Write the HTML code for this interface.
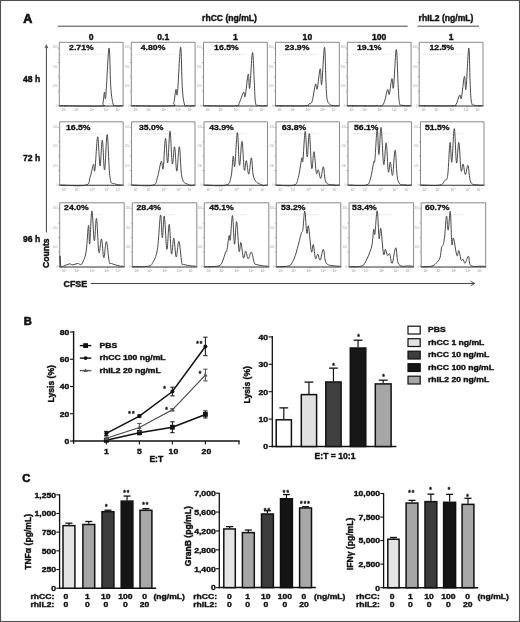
<!DOCTYPE html>
<html><head><meta charset="utf-8"><title>Figure</title>
<style>
html,body{margin:0;padding:0;background:#fff;}
body{width:520px;height:622px;overflow:hidden;}
svg{display:block;}
svg text{font-family:'Liberation Sans',Arial,Helvetica,sans-serif;font-weight:bold;}
</style></head>
<body>
<svg width="520" height="622" viewBox="0 0 520 622">
<rect x="0.50" y="0.50" width="519.00" height="621.00" fill="#fff" stroke="#505050" stroke-width="1.1" />
<text x="23.20" y="22.60" font-size="12.6" text-anchor="start" fill="#111" stroke="#111" stroke-width="0.7" >A</text>
<text x="229.50" y="21.30" font-size="8.6" text-anchor="middle" fill="#111" stroke="#111" stroke-width="0.4" >rhCC (ng/mL)</text>
<line x1="57.70" y1="26.20" x2="407.70" y2="26.20" stroke="#444" stroke-width="1.0" />
<text x="446.00" y="21.30" font-size="8.6" text-anchor="middle" fill="#111" stroke="#111" stroke-width="0.4" >rhIL2 (ng/mL)</text>
<line x1="417.50" y1="26.20" x2="479.00" y2="26.20" stroke="#444" stroke-width="1.0" />
<text x="91.20" y="39.60" font-size="8.6" text-anchor="middle" fill="#111" stroke="#111" stroke-width="0.4" >0</text>
<text x="163.20" y="39.60" font-size="8.6" text-anchor="middle" fill="#111" stroke="#111" stroke-width="0.4" >0.1</text>
<text x="235.40" y="39.60" font-size="8.6" text-anchor="middle" fill="#111" stroke="#111" stroke-width="0.4" >1</text>
<text x="307.40" y="39.60" font-size="8.6" text-anchor="middle" fill="#111" stroke="#111" stroke-width="0.4" >10</text>
<text x="379.20" y="39.60" font-size="8.6" text-anchor="middle" fill="#111" stroke="#111" stroke-width="0.4" >100</text>
<text x="451.10" y="39.60" font-size="8.6" text-anchor="middle" fill="#111" stroke="#111" stroke-width="0.4" >1</text>
<text x="23.10" y="82.10" font-size="8.6" text-anchor="start" fill="#111" stroke="#111" stroke-width="0.4" >48 h</text>
<text x="23.10" y="161.40" font-size="8.6" text-anchor="start" fill="#111" stroke="#111" stroke-width="0.4" >72 h</text>
<text x="23.10" y="241.80" font-size="8.6" text-anchor="start" fill="#111" stroke="#111" stroke-width="0.4" >96 h</text>
<path d="M59.30,106.00 V42.30 H123.10 V106.00" fill="none" stroke="#7a7a7a" stroke-width="0.9"/>
<line x1="57.70" y1="105.50" x2="59.30" y2="105.50" stroke="#8a8a8a" stroke-width="0.6" />
<line x1="57.70" y1="91.17" x2="59.30" y2="91.17" stroke="#8a8a8a" stroke-width="0.6" />
<line x1="57.70" y1="76.83" x2="59.30" y2="76.83" stroke="#8a8a8a" stroke-width="0.6" />
<line x1="57.70" y1="62.50" x2="59.30" y2="62.50" stroke="#8a8a8a" stroke-width="0.6" />
<line x1="57.70" y1="48.17" x2="59.30" y2="48.17" stroke="#8a8a8a" stroke-width="0.6" />
<text x="57.30" y="107.00" font-size="2.8" text-anchor="end" fill="#aaa" style="font-weight:normal">0</text>
<text x="57.30" y="87.47" font-size="2.8" text-anchor="end" fill="#aaa" style="font-weight:normal">100</text>
<text x="57.30" y="67.93" font-size="2.8" text-anchor="end" fill="#aaa" style="font-weight:normal">200</text>
<text x="57.30" y="48.40" font-size="2.8" text-anchor="end" fill="#aaa" style="font-weight:normal">300</text>
<text x="61.50" y="111.20" font-size="3.0" fill="#8a8a8a" style="font-weight:normal">10<tspan dy="-1.2" font-size="2.2">0</tspan></text>
<line x1="64.50" y1="106.00" x2="64.50" y2="107.20" stroke="#777" stroke-width="0.5" />
<text x="74.30" y="111.20" font-size="3.0" fill="#8a8a8a" style="font-weight:normal">10<tspan dy="-1.2" font-size="2.2">1</tspan></text>
<line x1="77.30" y1="106.00" x2="77.30" y2="107.20" stroke="#777" stroke-width="0.5" />
<text x="89.60" y="111.20" font-size="3.0" fill="#8a8a8a" style="font-weight:normal">10<tspan dy="-1.2" font-size="2.2">2</tspan></text>
<line x1="92.60" y1="106.00" x2="92.60" y2="107.20" stroke="#777" stroke-width="0.5" />
<text x="104.10" y="111.20" font-size="3.0" fill="#8a8a8a" style="font-weight:normal">10<tspan dy="-1.2" font-size="2.2">3</tspan></text>
<line x1="107.10" y1="106.00" x2="107.10" y2="107.20" stroke="#777" stroke-width="0.5" />
<text x="115.70" y="111.20" font-size="3.0" fill="#8a8a8a" style="font-weight:normal">10<tspan dy="-1.2" font-size="2.2">4</tspan></text>
<line x1="118.70" y1="106.00" x2="118.70" y2="107.20" stroke="#777" stroke-width="0.5" />
<line x1="62.80" y1="54.30" x2="102.80" y2="54.30" stroke="#d4d4d4" stroke-width="0.7" stroke-dasharray="1.2,0.8"/>
<path d="M59.90,105.70 C67.42,105.75 93.02,106.35 100.90,106.00 C108.78,105.65 102.26,106.33 102.90,103.80 C103.54,101.27 103.87,93.59 104.40,92.20 C104.93,90.81 104.96,104.30 105.80,96.20 C106.64,88.10 108.08,49.63 109.00,48.00 C109.92,46.37 110.05,77.03 110.80,87.30 C111.55,97.57 112.27,100.61 113.10,104.00 C113.92,107.39 113.58,105.49 115.30,105.80 C117.02,106.11 121.18,105.72 122.50,105.70" fill="none" stroke="#3c3c3c" stroke-width="0.95" stroke-linejoin="round"/>
<line x1="58.90" y1="106.00" x2="123.50" y2="106.00" stroke="#333" stroke-width="1.1" />
<text x="0" y="0" transform="translate(69.10,50.10) scale(1.07,1)" font-size="8.1" text-anchor="start" fill="#111" stroke="#111" stroke-width="0.32" >2.71%</text>
<path d="M131.30,106.00 V42.30 H195.10 V106.00" fill="none" stroke="#7a7a7a" stroke-width="0.9"/>
<line x1="129.70" y1="105.50" x2="131.30" y2="105.50" stroke="#8a8a8a" stroke-width="0.6" />
<line x1="129.70" y1="91.17" x2="131.30" y2="91.17" stroke="#8a8a8a" stroke-width="0.6" />
<line x1="129.70" y1="76.83" x2="131.30" y2="76.83" stroke="#8a8a8a" stroke-width="0.6" />
<line x1="129.70" y1="62.50" x2="131.30" y2="62.50" stroke="#8a8a8a" stroke-width="0.6" />
<line x1="129.70" y1="48.17" x2="131.30" y2="48.17" stroke="#8a8a8a" stroke-width="0.6" />
<text x="129.30" y="107.00" font-size="2.8" text-anchor="end" fill="#aaa" style="font-weight:normal">0</text>
<text x="129.30" y="87.47" font-size="2.8" text-anchor="end" fill="#aaa" style="font-weight:normal">100</text>
<text x="129.30" y="67.93" font-size="2.8" text-anchor="end" fill="#aaa" style="font-weight:normal">200</text>
<text x="129.30" y="48.40" font-size="2.8" text-anchor="end" fill="#aaa" style="font-weight:normal">300</text>
<text x="133.50" y="111.20" font-size="3.0" fill="#8a8a8a" style="font-weight:normal">10<tspan dy="-1.2" font-size="2.2">0</tspan></text>
<line x1="136.50" y1="106.00" x2="136.50" y2="107.20" stroke="#777" stroke-width="0.5" />
<text x="146.30" y="111.20" font-size="3.0" fill="#8a8a8a" style="font-weight:normal">10<tspan dy="-1.2" font-size="2.2">1</tspan></text>
<line x1="149.30" y1="106.00" x2="149.30" y2="107.20" stroke="#777" stroke-width="0.5" />
<text x="161.60" y="111.20" font-size="3.0" fill="#8a8a8a" style="font-weight:normal">10<tspan dy="-1.2" font-size="2.2">2</tspan></text>
<line x1="164.60" y1="106.00" x2="164.60" y2="107.20" stroke="#777" stroke-width="0.5" />
<text x="176.10" y="111.20" font-size="3.0" fill="#8a8a8a" style="font-weight:normal">10<tspan dy="-1.2" font-size="2.2">3</tspan></text>
<line x1="179.10" y1="106.00" x2="179.10" y2="107.20" stroke="#777" stroke-width="0.5" />
<text x="187.70" y="111.20" font-size="3.0" fill="#8a8a8a" style="font-weight:normal">10<tspan dy="-1.2" font-size="2.2">4</tspan></text>
<line x1="190.70" y1="106.00" x2="190.70" y2="107.20" stroke="#777" stroke-width="0.5" />
<line x1="134.80" y1="54.30" x2="174.80" y2="54.30" stroke="#d4d4d4" stroke-width="0.7" stroke-dasharray="1.2,0.8"/>
<path d="M131.90,105.70 C139.12,105.72 163.62,106.33 171.30,105.80 C178.98,105.27 172.96,105.79 173.80,102.80 C174.64,99.81 175.22,91.37 175.90,89.50 C176.58,87.63 176.64,100.35 177.50,92.60 C178.36,84.84 179.72,48.17 180.60,47.20 C181.48,46.23 181.60,76.85 182.30,87.30 C183.00,97.75 183.58,100.81 184.40,104.20 C185.22,107.59 184.95,105.52 186.80,105.80 C188.65,106.08 193.09,105.72 194.50,105.70" fill="none" stroke="#3c3c3c" stroke-width="0.95" stroke-linejoin="round"/>
<line x1="130.90" y1="106.00" x2="195.50" y2="106.00" stroke="#333" stroke-width="1.1" />
<text x="0" y="0" transform="translate(140.80,50.10) scale(1.07,1)" font-size="8.1" text-anchor="start" fill="#111" stroke="#111" stroke-width="0.32" >4.80%</text>
<path d="M203.50,106.00 V42.30 H267.30 V106.00" fill="none" stroke="#7a7a7a" stroke-width="0.9"/>
<line x1="201.90" y1="105.50" x2="203.50" y2="105.50" stroke="#8a8a8a" stroke-width="0.6" />
<line x1="201.90" y1="91.17" x2="203.50" y2="91.17" stroke="#8a8a8a" stroke-width="0.6" />
<line x1="201.90" y1="76.83" x2="203.50" y2="76.83" stroke="#8a8a8a" stroke-width="0.6" />
<line x1="201.90" y1="62.50" x2="203.50" y2="62.50" stroke="#8a8a8a" stroke-width="0.6" />
<line x1="201.90" y1="48.17" x2="203.50" y2="48.17" stroke="#8a8a8a" stroke-width="0.6" />
<text x="201.50" y="107.00" font-size="2.8" text-anchor="end" fill="#aaa" style="font-weight:normal">0</text>
<text x="201.50" y="87.47" font-size="2.8" text-anchor="end" fill="#aaa" style="font-weight:normal">100</text>
<text x="201.50" y="67.93" font-size="2.8" text-anchor="end" fill="#aaa" style="font-weight:normal">200</text>
<text x="201.50" y="48.40" font-size="2.8" text-anchor="end" fill="#aaa" style="font-weight:normal">300</text>
<text x="205.70" y="111.20" font-size="3.0" fill="#8a8a8a" style="font-weight:normal">10<tspan dy="-1.2" font-size="2.2">0</tspan></text>
<line x1="208.70" y1="106.00" x2="208.70" y2="107.20" stroke="#777" stroke-width="0.5" />
<text x="218.50" y="111.20" font-size="3.0" fill="#8a8a8a" style="font-weight:normal">10<tspan dy="-1.2" font-size="2.2">1</tspan></text>
<line x1="221.50" y1="106.00" x2="221.50" y2="107.20" stroke="#777" stroke-width="0.5" />
<text x="233.80" y="111.20" font-size="3.0" fill="#8a8a8a" style="font-weight:normal">10<tspan dy="-1.2" font-size="2.2">2</tspan></text>
<line x1="236.80" y1="106.00" x2="236.80" y2="107.20" stroke="#777" stroke-width="0.5" />
<text x="248.30" y="111.20" font-size="3.0" fill="#8a8a8a" style="font-weight:normal">10<tspan dy="-1.2" font-size="2.2">3</tspan></text>
<line x1="251.30" y1="106.00" x2="251.30" y2="107.20" stroke="#777" stroke-width="0.5" />
<text x="259.90" y="111.20" font-size="3.0" fill="#8a8a8a" style="font-weight:normal">10<tspan dy="-1.2" font-size="2.2">4</tspan></text>
<line x1="262.90" y1="106.00" x2="262.90" y2="107.20" stroke="#777" stroke-width="0.5" />
<line x1="207.00" y1="54.30" x2="247.00" y2="54.30" stroke="#d4d4d4" stroke-width="0.7" stroke-dasharray="1.2,0.8"/>
<path d="M204.10,105.70 C209.86,105.72 229.08,106.24 235.50,105.80 C241.92,105.36 237.63,105.79 239.10,103.30 C240.57,100.81 242.38,93.50 243.50,92.20 C244.62,90.90 244.34,99.50 245.20,96.20 C246.06,92.90 247.38,75.70 248.20,74.20 C249.02,72.70 248.91,91.96 249.70,88.00 C250.49,84.04 251.66,53.64 252.50,52.60 C253.34,51.55 253.75,73.13 254.30,82.30 C254.85,91.47 254.73,98.35 255.50,102.60 C256.27,106.85 256.45,104.93 258.50,105.50 C260.55,106.07 265.20,105.66 266.70,105.70" fill="none" stroke="#3c3c3c" stroke-width="0.95" stroke-linejoin="round"/>
<line x1="203.10" y1="106.00" x2="267.70" y2="106.00" stroke="#333" stroke-width="1.1" />
<text x="0" y="0" transform="translate(214.10,50.10) scale(1.07,1)" font-size="8.1" text-anchor="start" fill="#111" stroke="#111" stroke-width="0.32" >16.5%</text>
<path d="M275.50,106.00 V42.30 H339.30 V106.00" fill="none" stroke="#7a7a7a" stroke-width="0.9"/>
<line x1="273.90" y1="105.50" x2="275.50" y2="105.50" stroke="#8a8a8a" stroke-width="0.6" />
<line x1="273.90" y1="91.17" x2="275.50" y2="91.17" stroke="#8a8a8a" stroke-width="0.6" />
<line x1="273.90" y1="76.83" x2="275.50" y2="76.83" stroke="#8a8a8a" stroke-width="0.6" />
<line x1="273.90" y1="62.50" x2="275.50" y2="62.50" stroke="#8a8a8a" stroke-width="0.6" />
<line x1="273.90" y1="48.17" x2="275.50" y2="48.17" stroke="#8a8a8a" stroke-width="0.6" />
<text x="273.50" y="107.00" font-size="2.8" text-anchor="end" fill="#aaa" style="font-weight:normal">0</text>
<text x="273.50" y="87.47" font-size="2.8" text-anchor="end" fill="#aaa" style="font-weight:normal">100</text>
<text x="273.50" y="67.93" font-size="2.8" text-anchor="end" fill="#aaa" style="font-weight:normal">200</text>
<text x="273.50" y="48.40" font-size="2.8" text-anchor="end" fill="#aaa" style="font-weight:normal">300</text>
<text x="277.70" y="111.20" font-size="3.0" fill="#8a8a8a" style="font-weight:normal">10<tspan dy="-1.2" font-size="2.2">0</tspan></text>
<line x1="280.70" y1="106.00" x2="280.70" y2="107.20" stroke="#777" stroke-width="0.5" />
<text x="290.50" y="111.20" font-size="3.0" fill="#8a8a8a" style="font-weight:normal">10<tspan dy="-1.2" font-size="2.2">1</tspan></text>
<line x1="293.50" y1="106.00" x2="293.50" y2="107.20" stroke="#777" stroke-width="0.5" />
<text x="305.80" y="111.20" font-size="3.0" fill="#8a8a8a" style="font-weight:normal">10<tspan dy="-1.2" font-size="2.2">2</tspan></text>
<line x1="308.80" y1="106.00" x2="308.80" y2="107.20" stroke="#777" stroke-width="0.5" />
<text x="320.30" y="111.20" font-size="3.0" fill="#8a8a8a" style="font-weight:normal">10<tspan dy="-1.2" font-size="2.2">3</tspan></text>
<line x1="323.30" y1="106.00" x2="323.30" y2="107.20" stroke="#777" stroke-width="0.5" />
<text x="331.90" y="111.20" font-size="3.0" fill="#8a8a8a" style="font-weight:normal">10<tspan dy="-1.2" font-size="2.2">4</tspan></text>
<line x1="334.90" y1="106.00" x2="334.90" y2="107.20" stroke="#777" stroke-width="0.5" />
<line x1="279.00" y1="54.30" x2="319.00" y2="54.30" stroke="#d4d4d4" stroke-width="0.7" stroke-dasharray="1.2,0.8"/>
<path d="M276.10,105.70 C281.44,105.72 299.17,106.15 305.20,105.80 C311.23,105.45 307.74,104.62 309.00,103.80 C310.26,102.97 310.91,104.89 312.10,101.30 C313.29,97.71 314.56,86.49 315.50,84.20 C316.44,81.91 316.34,91.62 317.20,88.80 C318.06,85.98 319.38,69.64 320.20,68.80 C321.02,67.96 320.91,88.16 321.70,84.20 C322.49,80.24 323.71,47.55 324.50,47.20 C325.29,46.85 325.50,72.71 326.00,82.30 C326.50,91.89 326.36,95.36 327.20,99.50 C328.04,103.64 329.08,103.76 330.60,104.90 C332.12,106.04 334.01,105.55 335.50,105.70 C336.99,105.85 338.11,105.70 338.70,105.70" fill="none" stroke="#3c3c3c" stroke-width="0.95" stroke-linejoin="round"/>
<line x1="275.10" y1="106.00" x2="339.70" y2="106.00" stroke="#333" stroke-width="1.1" />
<text x="0" y="0" transform="translate(284.80,50.10) scale(1.07,1)" font-size="8.1" text-anchor="start" fill="#111" stroke="#111" stroke-width="0.32" >23.9%</text>
<path d="M347.30,106.00 V42.30 H411.10 V106.00" fill="none" stroke="#7a7a7a" stroke-width="0.9"/>
<line x1="345.70" y1="105.50" x2="347.30" y2="105.50" stroke="#8a8a8a" stroke-width="0.6" />
<line x1="345.70" y1="91.17" x2="347.30" y2="91.17" stroke="#8a8a8a" stroke-width="0.6" />
<line x1="345.70" y1="76.83" x2="347.30" y2="76.83" stroke="#8a8a8a" stroke-width="0.6" />
<line x1="345.70" y1="62.50" x2="347.30" y2="62.50" stroke="#8a8a8a" stroke-width="0.6" />
<line x1="345.70" y1="48.17" x2="347.30" y2="48.17" stroke="#8a8a8a" stroke-width="0.6" />
<text x="345.30" y="107.00" font-size="2.8" text-anchor="end" fill="#aaa" style="font-weight:normal">0</text>
<text x="345.30" y="87.47" font-size="2.8" text-anchor="end" fill="#aaa" style="font-weight:normal">100</text>
<text x="345.30" y="67.93" font-size="2.8" text-anchor="end" fill="#aaa" style="font-weight:normal">200</text>
<text x="345.30" y="48.40" font-size="2.8" text-anchor="end" fill="#aaa" style="font-weight:normal">300</text>
<text x="349.50" y="111.20" font-size="3.0" fill="#8a8a8a" style="font-weight:normal">10<tspan dy="-1.2" font-size="2.2">0</tspan></text>
<line x1="352.50" y1="106.00" x2="352.50" y2="107.20" stroke="#777" stroke-width="0.5" />
<text x="362.30" y="111.20" font-size="3.0" fill="#8a8a8a" style="font-weight:normal">10<tspan dy="-1.2" font-size="2.2">1</tspan></text>
<line x1="365.30" y1="106.00" x2="365.30" y2="107.20" stroke="#777" stroke-width="0.5" />
<text x="377.60" y="111.20" font-size="3.0" fill="#8a8a8a" style="font-weight:normal">10<tspan dy="-1.2" font-size="2.2">2</tspan></text>
<line x1="380.60" y1="106.00" x2="380.60" y2="107.20" stroke="#777" stroke-width="0.5" />
<text x="392.10" y="111.20" font-size="3.0" fill="#8a8a8a" style="font-weight:normal">10<tspan dy="-1.2" font-size="2.2">3</tspan></text>
<line x1="395.10" y1="106.00" x2="395.10" y2="107.20" stroke="#777" stroke-width="0.5" />
<text x="403.70" y="111.20" font-size="3.0" fill="#8a8a8a" style="font-weight:normal">10<tspan dy="-1.2" font-size="2.2">4</tspan></text>
<line x1="406.70" y1="106.00" x2="406.70" y2="107.20" stroke="#777" stroke-width="0.5" />
<line x1="350.80" y1="54.30" x2="390.80" y2="54.30" stroke="#d4d4d4" stroke-width="0.7" stroke-dasharray="1.2,0.8"/>
<path d="M347.90,105.70 C353.47,105.72 371.92,105.95 378.30,105.80 C384.68,105.65 381.47,106.04 382.70,104.90 C383.93,103.76 384.10,102.42 385.00,99.60 C385.90,96.78 386.81,90.51 387.60,89.50 C388.39,88.49 388.51,96.08 389.30,94.10 C390.09,92.12 391.13,79.96 391.90,78.70 C392.67,77.43 392.69,92.55 393.50,87.20 C394.31,81.85 395.46,50.03 396.30,49.50 C397.14,48.97 397.53,74.56 398.10,84.30 C398.67,94.03 398.69,98.75 399.40,102.60 C400.12,106.45 399.97,104.73 402.00,105.30 C404.03,105.87 408.94,105.63 410.50,105.70" fill="none" stroke="#3c3c3c" stroke-width="0.95" stroke-linejoin="round"/>
<line x1="346.90" y1="106.00" x2="411.50" y2="106.00" stroke="#333" stroke-width="1.1" />
<text x="0" y="0" transform="translate(357.00,50.10) scale(1.07,1)" font-size="8.1" text-anchor="start" fill="#111" stroke="#111" stroke-width="0.32" >19.1%</text>
<path d="M419.20,106.00 V42.30 H483.00 V106.00" fill="none" stroke="#7a7a7a" stroke-width="0.9"/>
<line x1="417.60" y1="105.50" x2="419.20" y2="105.50" stroke="#8a8a8a" stroke-width="0.6" />
<line x1="417.60" y1="91.17" x2="419.20" y2="91.17" stroke="#8a8a8a" stroke-width="0.6" />
<line x1="417.60" y1="76.83" x2="419.20" y2="76.83" stroke="#8a8a8a" stroke-width="0.6" />
<line x1="417.60" y1="62.50" x2="419.20" y2="62.50" stroke="#8a8a8a" stroke-width="0.6" />
<line x1="417.60" y1="48.17" x2="419.20" y2="48.17" stroke="#8a8a8a" stroke-width="0.6" />
<text x="417.20" y="107.00" font-size="2.8" text-anchor="end" fill="#aaa" style="font-weight:normal">0</text>
<text x="417.20" y="87.47" font-size="2.8" text-anchor="end" fill="#aaa" style="font-weight:normal">100</text>
<text x="417.20" y="67.93" font-size="2.8" text-anchor="end" fill="#aaa" style="font-weight:normal">200</text>
<text x="417.20" y="48.40" font-size="2.8" text-anchor="end" fill="#aaa" style="font-weight:normal">300</text>
<text x="421.40" y="111.20" font-size="3.0" fill="#8a8a8a" style="font-weight:normal">10<tspan dy="-1.2" font-size="2.2">0</tspan></text>
<line x1="424.40" y1="106.00" x2="424.40" y2="107.20" stroke="#777" stroke-width="0.5" />
<text x="434.20" y="111.20" font-size="3.0" fill="#8a8a8a" style="font-weight:normal">10<tspan dy="-1.2" font-size="2.2">1</tspan></text>
<line x1="437.20" y1="106.00" x2="437.20" y2="107.20" stroke="#777" stroke-width="0.5" />
<text x="449.50" y="111.20" font-size="3.0" fill="#8a8a8a" style="font-weight:normal">10<tspan dy="-1.2" font-size="2.2">2</tspan></text>
<line x1="452.50" y1="106.00" x2="452.50" y2="107.20" stroke="#777" stroke-width="0.5" />
<text x="464.00" y="111.20" font-size="3.0" fill="#8a8a8a" style="font-weight:normal">10<tspan dy="-1.2" font-size="2.2">3</tspan></text>
<line x1="467.00" y1="106.00" x2="467.00" y2="107.20" stroke="#777" stroke-width="0.5" />
<text x="475.60" y="111.20" font-size="3.0" fill="#8a8a8a" style="font-weight:normal">10<tspan dy="-1.2" font-size="2.2">4</tspan></text>
<line x1="478.60" y1="106.00" x2="478.60" y2="107.20" stroke="#777" stroke-width="0.5" />
<line x1="422.70" y1="54.30" x2="462.70" y2="54.30" stroke="#d4d4d4" stroke-width="0.7" stroke-dasharray="1.2,0.8"/>
<path d="M419.80,105.70 C425.74,105.72 445.58,105.98 452.20,105.80 C458.82,105.62 454.89,105.71 455.90,104.70 C456.91,103.69 456.98,102.10 457.70,100.30 C458.42,98.50 459.12,95.34 459.80,94.90 C460.48,94.46 460.56,101.27 461.40,97.90 C462.24,94.53 463.56,78.17 464.40,76.50 C465.24,74.83 465.19,94.02 466.00,88.80 C466.81,83.58 468.03,48.83 468.80,48.00 C469.57,47.17 469.69,74.29 470.20,84.30 C470.71,94.31 470.74,98.75 471.60,102.60 C472.46,106.45 472.92,104.73 474.90,105.30 C476.88,105.87 481.02,105.63 482.40,105.70" fill="none" stroke="#3c3c3c" stroke-width="0.95" stroke-linejoin="round"/>
<line x1="418.80" y1="106.00" x2="483.40" y2="106.00" stroke="#333" stroke-width="1.1" />
<text x="0" y="0" transform="translate(429.50,50.10) scale(1.07,1)" font-size="8.1" text-anchor="start" fill="#111" stroke="#111" stroke-width="0.32" >12.5%</text>
<path d="M59.70,185.30 V121.80 H123.20 V185.30" fill="none" stroke="#7a7a7a" stroke-width="0.9"/>
<line x1="58.10" y1="184.80" x2="59.70" y2="184.80" stroke="#8a8a8a" stroke-width="0.6" />
<line x1="58.10" y1="170.51" x2="59.70" y2="170.51" stroke="#8a8a8a" stroke-width="0.6" />
<line x1="58.10" y1="156.22" x2="59.70" y2="156.22" stroke="#8a8a8a" stroke-width="0.6" />
<line x1="58.10" y1="141.94" x2="59.70" y2="141.94" stroke="#8a8a8a" stroke-width="0.6" />
<line x1="58.10" y1="127.65" x2="59.70" y2="127.65" stroke="#8a8a8a" stroke-width="0.6" />
<text x="57.70" y="186.30" font-size="2.8" text-anchor="end" fill="#aaa" style="font-weight:normal">0</text>
<text x="57.70" y="166.83" font-size="2.8" text-anchor="end" fill="#aaa" style="font-weight:normal">100</text>
<text x="57.70" y="147.35" font-size="2.8" text-anchor="end" fill="#aaa" style="font-weight:normal">200</text>
<text x="57.70" y="127.88" font-size="2.8" text-anchor="end" fill="#aaa" style="font-weight:normal">300</text>
<text x="61.90" y="190.50" font-size="3.0" fill="#8a8a8a" style="font-weight:normal">10<tspan dy="-1.2" font-size="2.2">0</tspan></text>
<line x1="64.90" y1="185.30" x2="64.90" y2="186.50" stroke="#777" stroke-width="0.5" />
<text x="74.70" y="190.50" font-size="3.0" fill="#8a8a8a" style="font-weight:normal">10<tspan dy="-1.2" font-size="2.2">1</tspan></text>
<line x1="77.70" y1="185.30" x2="77.70" y2="186.50" stroke="#777" stroke-width="0.5" />
<text x="90.00" y="190.50" font-size="3.0" fill="#8a8a8a" style="font-weight:normal">10<tspan dy="-1.2" font-size="2.2">2</tspan></text>
<line x1="93.00" y1="185.30" x2="93.00" y2="186.50" stroke="#777" stroke-width="0.5" />
<text x="104.50" y="190.50" font-size="3.0" fill="#8a8a8a" style="font-weight:normal">10<tspan dy="-1.2" font-size="2.2">3</tspan></text>
<line x1="107.50" y1="185.30" x2="107.50" y2="186.50" stroke="#777" stroke-width="0.5" />
<text x="116.10" y="190.50" font-size="3.0" fill="#8a8a8a" style="font-weight:normal">10<tspan dy="-1.2" font-size="2.2">4</tspan></text>
<line x1="119.10" y1="185.30" x2="119.10" y2="186.50" stroke="#777" stroke-width="0.5" />
<line x1="63.20" y1="133.80" x2="103.20" y2="133.80" stroke="#d4d4d4" stroke-width="0.7" stroke-dasharray="1.2,0.8"/>
<path d="M60.30,185.00 C64.90,185.04 79.96,186.57 85.40,185.20 C90.84,183.82 88.53,181.29 90.00,177.50 C91.47,173.71 92.50,165.89 93.40,164.50 C94.30,163.11 94.11,174.98 94.90,169.90 C95.69,164.82 96.77,137.52 97.70,136.80 C98.64,136.09 99.16,165.36 100.00,166.00 C100.84,166.64 101.46,139.59 102.30,140.30 C103.14,141.02 103.70,170.96 104.60,169.90 C105.50,168.84 106.21,133.11 107.20,134.50 C108.19,135.89 108.64,168.48 110.00,177.50 C111.36,186.52 112.45,182.31 114.60,183.70 C116.74,185.09 120.23,184.86 121.70,185.10 C123.17,185.34 122.44,185.02 122.60,185.00" fill="none" stroke="#3c3c3c" stroke-width="0.95" stroke-linejoin="round"/>
<line x1="59.30" y1="185.30" x2="123.60" y2="185.30" stroke="#333" stroke-width="1.1" />
<text x="0" y="0" transform="translate(66.00,129.70) scale(1.07,1)" font-size="8.1" text-anchor="start" fill="#111" stroke="#111" stroke-width="0.32" >16.5%</text>
<path d="M131.50,185.30 V121.80 H195.00 V185.30" fill="none" stroke="#7a7a7a" stroke-width="0.9"/>
<line x1="129.90" y1="184.80" x2="131.50" y2="184.80" stroke="#8a8a8a" stroke-width="0.6" />
<line x1="129.90" y1="170.51" x2="131.50" y2="170.51" stroke="#8a8a8a" stroke-width="0.6" />
<line x1="129.90" y1="156.22" x2="131.50" y2="156.22" stroke="#8a8a8a" stroke-width="0.6" />
<line x1="129.90" y1="141.94" x2="131.50" y2="141.94" stroke="#8a8a8a" stroke-width="0.6" />
<line x1="129.90" y1="127.65" x2="131.50" y2="127.65" stroke="#8a8a8a" stroke-width="0.6" />
<text x="129.50" y="186.30" font-size="2.8" text-anchor="end" fill="#aaa" style="font-weight:normal">0</text>
<text x="129.50" y="166.83" font-size="2.8" text-anchor="end" fill="#aaa" style="font-weight:normal">100</text>
<text x="129.50" y="147.35" font-size="2.8" text-anchor="end" fill="#aaa" style="font-weight:normal">200</text>
<text x="129.50" y="127.88" font-size="2.8" text-anchor="end" fill="#aaa" style="font-weight:normal">300</text>
<text x="133.70" y="190.50" font-size="3.0" fill="#8a8a8a" style="font-weight:normal">10<tspan dy="-1.2" font-size="2.2">0</tspan></text>
<line x1="136.70" y1="185.30" x2="136.70" y2="186.50" stroke="#777" stroke-width="0.5" />
<text x="146.50" y="190.50" font-size="3.0" fill="#8a8a8a" style="font-weight:normal">10<tspan dy="-1.2" font-size="2.2">1</tspan></text>
<line x1="149.50" y1="185.30" x2="149.50" y2="186.50" stroke="#777" stroke-width="0.5" />
<text x="161.80" y="190.50" font-size="3.0" fill="#8a8a8a" style="font-weight:normal">10<tspan dy="-1.2" font-size="2.2">2</tspan></text>
<line x1="164.80" y1="185.30" x2="164.80" y2="186.50" stroke="#777" stroke-width="0.5" />
<text x="176.30" y="190.50" font-size="3.0" fill="#8a8a8a" style="font-weight:normal">10<tspan dy="-1.2" font-size="2.2">3</tspan></text>
<line x1="179.30" y1="185.30" x2="179.30" y2="186.50" stroke="#777" stroke-width="0.5" />
<text x="187.90" y="190.50" font-size="3.0" fill="#8a8a8a" style="font-weight:normal">10<tspan dy="-1.2" font-size="2.2">4</tspan></text>
<line x1="190.90" y1="185.30" x2="190.90" y2="186.50" stroke="#777" stroke-width="0.5" />
<line x1="135.00" y1="133.80" x2="175.00" y2="133.80" stroke="#d4d4d4" stroke-width="0.7" stroke-dasharray="1.2,0.8"/>
<path d="M132.10,185.00 C135.90,185.04 148.16,186.57 152.80,185.20 C157.44,183.82 155.86,181.86 157.40,177.50 C158.94,173.14 160.14,163.09 161.20,161.40 C162.26,159.71 162.41,172.54 163.20,168.30 C163.99,164.06 164.68,139.29 165.50,138.30 C166.32,137.31 166.88,164.22 167.70,162.90 C168.52,161.58 169.16,130.95 170.00,131.10 C170.84,131.25 171.46,160.82 172.30,163.70 C173.14,166.58 173.78,145.44 174.60,146.80 C175.42,148.16 175.92,171.10 176.80,171.10 C177.68,171.10 178.45,145.63 179.40,146.80 C180.35,147.97 180.39,170.59 182.00,177.50 C183.61,184.41 186.09,183.11 188.20,184.50 C190.31,185.89 192.36,185.01 193.50,185.10 C194.64,185.19 194.24,185.02 194.40,185.00" fill="none" stroke="#3c3c3c" stroke-width="0.95" stroke-linejoin="round"/>
<line x1="131.10" y1="185.30" x2="195.40" y2="185.30" stroke="#333" stroke-width="1.1" />
<text x="0" y="0" transform="translate(138.90,129.70) scale(1.07,1)" font-size="8.1" text-anchor="start" fill="#111" stroke="#111" stroke-width="0.32" >35.0%</text>
<path d="M204.00,185.30 V121.80 H267.50 V185.30" fill="none" stroke="#7a7a7a" stroke-width="0.9"/>
<line x1="202.40" y1="184.80" x2="204.00" y2="184.80" stroke="#8a8a8a" stroke-width="0.6" />
<line x1="202.40" y1="170.51" x2="204.00" y2="170.51" stroke="#8a8a8a" stroke-width="0.6" />
<line x1="202.40" y1="156.22" x2="204.00" y2="156.22" stroke="#8a8a8a" stroke-width="0.6" />
<line x1="202.40" y1="141.94" x2="204.00" y2="141.94" stroke="#8a8a8a" stroke-width="0.6" />
<line x1="202.40" y1="127.65" x2="204.00" y2="127.65" stroke="#8a8a8a" stroke-width="0.6" />
<text x="202.00" y="186.30" font-size="2.8" text-anchor="end" fill="#aaa" style="font-weight:normal">0</text>
<text x="202.00" y="166.83" font-size="2.8" text-anchor="end" fill="#aaa" style="font-weight:normal">100</text>
<text x="202.00" y="147.35" font-size="2.8" text-anchor="end" fill="#aaa" style="font-weight:normal">200</text>
<text x="202.00" y="127.88" font-size="2.8" text-anchor="end" fill="#aaa" style="font-weight:normal">300</text>
<text x="206.20" y="190.50" font-size="3.0" fill="#8a8a8a" style="font-weight:normal">10<tspan dy="-1.2" font-size="2.2">0</tspan></text>
<line x1="209.20" y1="185.30" x2="209.20" y2="186.50" stroke="#777" stroke-width="0.5" />
<text x="219.00" y="190.50" font-size="3.0" fill="#8a8a8a" style="font-weight:normal">10<tspan dy="-1.2" font-size="2.2">1</tspan></text>
<line x1="222.00" y1="185.30" x2="222.00" y2="186.50" stroke="#777" stroke-width="0.5" />
<text x="234.30" y="190.50" font-size="3.0" fill="#8a8a8a" style="font-weight:normal">10<tspan dy="-1.2" font-size="2.2">2</tspan></text>
<line x1="237.30" y1="185.30" x2="237.30" y2="186.50" stroke="#777" stroke-width="0.5" />
<text x="248.80" y="190.50" font-size="3.0" fill="#8a8a8a" style="font-weight:normal">10<tspan dy="-1.2" font-size="2.2">3</tspan></text>
<line x1="251.80" y1="185.30" x2="251.80" y2="186.50" stroke="#777" stroke-width="0.5" />
<text x="260.40" y="190.50" font-size="3.0" fill="#8a8a8a" style="font-weight:normal">10<tspan dy="-1.2" font-size="2.2">4</tspan></text>
<line x1="263.40" y1="185.30" x2="263.40" y2="186.50" stroke="#777" stroke-width="0.5" />
<line x1="207.50" y1="133.80" x2="247.50" y2="133.80" stroke="#d4d4d4" stroke-width="0.7" stroke-dasharray="1.2,0.8"/>
<path d="M204.60,185.00 C208.43,185.04 220.68,186.57 225.50,185.20 C230.32,183.82 229.49,182.80 230.90,177.50 C232.31,172.20 232.48,158.41 233.20,156.30 C233.91,154.19 234.03,170.34 234.80,166.00 C235.57,161.66 236.54,132.75 237.40,132.60 C238.26,132.45 238.66,163.59 239.50,165.20 C240.34,166.81 241.12,140.54 242.00,141.40 C242.88,142.26 243.51,166.38 244.30,169.90 C245.09,173.42 245.48,159.81 246.30,160.60 C247.12,161.39 247.87,174.69 248.80,174.20 C249.74,173.70 250.45,157.15 251.40,157.90 C252.35,158.65 252.11,173.35 254.00,178.30 C255.89,183.25 259.50,183.65 261.70,184.90 C263.90,186.15 265.05,185.08 266.00,185.10 C266.95,185.12 266.73,185.02 266.90,185.00" fill="none" stroke="#3c3c3c" stroke-width="0.95" stroke-linejoin="round"/>
<line x1="203.60" y1="185.30" x2="267.90" y2="185.30" stroke="#333" stroke-width="1.1" />
<text x="0" y="0" transform="translate(209.20,129.70) scale(1.07,1)" font-size="8.1" text-anchor="start" fill="#111" stroke="#111" stroke-width="0.32" >43.9%</text>
<path d="M276.00,185.30 V121.80 H339.50 V185.30" fill="none" stroke="#7a7a7a" stroke-width="0.9"/>
<line x1="274.40" y1="184.80" x2="276.00" y2="184.80" stroke="#8a8a8a" stroke-width="0.6" />
<line x1="274.40" y1="170.51" x2="276.00" y2="170.51" stroke="#8a8a8a" stroke-width="0.6" />
<line x1="274.40" y1="156.22" x2="276.00" y2="156.22" stroke="#8a8a8a" stroke-width="0.6" />
<line x1="274.40" y1="141.94" x2="276.00" y2="141.94" stroke="#8a8a8a" stroke-width="0.6" />
<line x1="274.40" y1="127.65" x2="276.00" y2="127.65" stroke="#8a8a8a" stroke-width="0.6" />
<text x="274.00" y="186.30" font-size="2.8" text-anchor="end" fill="#aaa" style="font-weight:normal">0</text>
<text x="274.00" y="166.83" font-size="2.8" text-anchor="end" fill="#aaa" style="font-weight:normal">100</text>
<text x="274.00" y="147.35" font-size="2.8" text-anchor="end" fill="#aaa" style="font-weight:normal">200</text>
<text x="274.00" y="127.88" font-size="2.8" text-anchor="end" fill="#aaa" style="font-weight:normal">300</text>
<text x="278.20" y="190.50" font-size="3.0" fill="#8a8a8a" style="font-weight:normal">10<tspan dy="-1.2" font-size="2.2">0</tspan></text>
<line x1="281.20" y1="185.30" x2="281.20" y2="186.50" stroke="#777" stroke-width="0.5" />
<text x="291.00" y="190.50" font-size="3.0" fill="#8a8a8a" style="font-weight:normal">10<tspan dy="-1.2" font-size="2.2">1</tspan></text>
<line x1="294.00" y1="185.30" x2="294.00" y2="186.50" stroke="#777" stroke-width="0.5" />
<text x="306.30" y="190.50" font-size="3.0" fill="#8a8a8a" style="font-weight:normal">10<tspan dy="-1.2" font-size="2.2">2</tspan></text>
<line x1="309.30" y1="185.30" x2="309.30" y2="186.50" stroke="#777" stroke-width="0.5" />
<text x="320.80" y="190.50" font-size="3.0" fill="#8a8a8a" style="font-weight:normal">10<tspan dy="-1.2" font-size="2.2">3</tspan></text>
<line x1="323.80" y1="185.30" x2="323.80" y2="186.50" stroke="#777" stroke-width="0.5" />
<text x="332.40" y="190.50" font-size="3.0" fill="#8a8a8a" style="font-weight:normal">10<tspan dy="-1.2" font-size="2.2">4</tspan></text>
<line x1="335.40" y1="185.30" x2="335.40" y2="186.50" stroke="#777" stroke-width="0.5" />
<line x1="279.50" y1="133.80" x2="319.50" y2="133.80" stroke="#d4d4d4" stroke-width="0.7" stroke-dasharray="1.2,0.8"/>
<path d="M276.60,185.00 C279.74,185.04 289.72,186.57 293.70,185.20 C297.68,183.82 296.83,182.43 298.30,177.50 C299.77,172.57 300.86,161.40 301.70,158.30 C302.54,155.20 302.26,165.53 302.90,160.60 C303.54,155.67 304.41,132.10 305.20,131.40 C305.99,130.70 306.43,156.38 307.20,156.80 C307.97,157.22 308.57,131.59 309.40,133.70 C310.22,135.81 310.86,165.00 311.70,168.30 C312.54,171.60 313.16,150.86 314.00,151.70 C314.84,152.54 315.51,169.56 316.30,172.90 C317.09,176.24 317.48,168.91 318.30,169.90 C319.12,170.89 319.87,178.87 320.80,178.30 C321.74,177.73 322.45,166.09 323.40,166.80 C324.35,167.52 324.11,178.88 326.00,182.20 C327.89,185.52 331.50,184.37 333.70,184.90 C335.90,185.43 337.05,185.08 338.00,185.10 C338.95,185.12 338.73,185.02 338.90,185.00" fill="none" stroke="#3c3c3c" stroke-width="0.95" stroke-linejoin="round"/>
<line x1="275.60" y1="185.30" x2="339.90" y2="185.30" stroke="#333" stroke-width="1.1" />
<text x="0" y="0" transform="translate(281.70,129.70) scale(1.07,1)" font-size="8.1" text-anchor="start" fill="#111" stroke="#111" stroke-width="0.32" >63.8%</text>
<path d="M348.00,185.30 V121.80 H411.50 V185.30" fill="none" stroke="#7a7a7a" stroke-width="0.9"/>
<line x1="346.40" y1="184.80" x2="348.00" y2="184.80" stroke="#8a8a8a" stroke-width="0.6" />
<line x1="346.40" y1="170.51" x2="348.00" y2="170.51" stroke="#8a8a8a" stroke-width="0.6" />
<line x1="346.40" y1="156.22" x2="348.00" y2="156.22" stroke="#8a8a8a" stroke-width="0.6" />
<line x1="346.40" y1="141.94" x2="348.00" y2="141.94" stroke="#8a8a8a" stroke-width="0.6" />
<line x1="346.40" y1="127.65" x2="348.00" y2="127.65" stroke="#8a8a8a" stroke-width="0.6" />
<text x="346.00" y="186.30" font-size="2.8" text-anchor="end" fill="#aaa" style="font-weight:normal">0</text>
<text x="346.00" y="166.83" font-size="2.8" text-anchor="end" fill="#aaa" style="font-weight:normal">100</text>
<text x="346.00" y="147.35" font-size="2.8" text-anchor="end" fill="#aaa" style="font-weight:normal">200</text>
<text x="346.00" y="127.88" font-size="2.8" text-anchor="end" fill="#aaa" style="font-weight:normal">300</text>
<text x="350.20" y="190.50" font-size="3.0" fill="#8a8a8a" style="font-weight:normal">10<tspan dy="-1.2" font-size="2.2">0</tspan></text>
<line x1="353.20" y1="185.30" x2="353.20" y2="186.50" stroke="#777" stroke-width="0.5" />
<text x="363.00" y="190.50" font-size="3.0" fill="#8a8a8a" style="font-weight:normal">10<tspan dy="-1.2" font-size="2.2">1</tspan></text>
<line x1="366.00" y1="185.30" x2="366.00" y2="186.50" stroke="#777" stroke-width="0.5" />
<text x="378.30" y="190.50" font-size="3.0" fill="#8a8a8a" style="font-weight:normal">10<tspan dy="-1.2" font-size="2.2">2</tspan></text>
<line x1="381.30" y1="185.30" x2="381.30" y2="186.50" stroke="#777" stroke-width="0.5" />
<text x="392.80" y="190.50" font-size="3.0" fill="#8a8a8a" style="font-weight:normal">10<tspan dy="-1.2" font-size="2.2">3</tspan></text>
<line x1="395.80" y1="185.30" x2="395.80" y2="186.50" stroke="#777" stroke-width="0.5" />
<text x="404.40" y="190.50" font-size="3.0" fill="#8a8a8a" style="font-weight:normal">10<tspan dy="-1.2" font-size="2.2">4</tspan></text>
<line x1="407.40" y1="185.30" x2="407.40" y2="186.50" stroke="#777" stroke-width="0.5" />
<line x1="351.50" y1="133.80" x2="391.50" y2="133.80" stroke="#d4d4d4" stroke-width="0.7" stroke-dasharray="1.2,0.8"/>
<path d="M348.60,185.00 C351.74,185.04 361.72,186.28 365.70,185.20 C369.68,184.12 368.83,183.32 370.30,179.10 C371.77,174.88 372.86,165.74 373.70,162.20 C374.54,158.66 374.26,165.87 374.90,159.80 C375.54,153.73 376.47,130.07 377.20,129.10 C377.93,128.13 378.18,154.79 378.90,154.50 C379.62,154.21 380.22,125.67 381.10,127.50 C381.98,129.33 382.76,161.68 383.70,164.50 C384.63,167.32 385.36,141.58 386.20,142.90 C387.04,144.22 387.55,168.16 388.30,171.70 C389.05,175.24 389.51,161.56 390.30,162.20 C391.09,162.84 391.70,177.40 392.60,175.20 C393.50,173.00 394.21,149.21 395.20,150.20 C396.19,151.19 396.07,174.24 398.00,180.60 C399.93,186.96 403.50,184.08 405.70,184.90 C407.90,185.72 409.05,185.08 410.00,185.10 C410.95,185.12 410.73,185.02 410.90,185.00" fill="none" stroke="#3c3c3c" stroke-width="0.95" stroke-linejoin="round"/>
<line x1="347.60" y1="185.30" x2="411.90" y2="185.30" stroke="#333" stroke-width="1.1" />
<text x="0" y="0" transform="translate(354.00,129.70) scale(1.07,1)" font-size="8.1" text-anchor="start" fill="#111" stroke="#111" stroke-width="0.32" >56.1%</text>
<path d="M420.50,185.30 V121.80 H484.00 V185.30" fill="none" stroke="#7a7a7a" stroke-width="0.9"/>
<line x1="418.90" y1="184.80" x2="420.50" y2="184.80" stroke="#8a8a8a" stroke-width="0.6" />
<line x1="418.90" y1="170.51" x2="420.50" y2="170.51" stroke="#8a8a8a" stroke-width="0.6" />
<line x1="418.90" y1="156.22" x2="420.50" y2="156.22" stroke="#8a8a8a" stroke-width="0.6" />
<line x1="418.90" y1="141.94" x2="420.50" y2="141.94" stroke="#8a8a8a" stroke-width="0.6" />
<line x1="418.90" y1="127.65" x2="420.50" y2="127.65" stroke="#8a8a8a" stroke-width="0.6" />
<text x="418.50" y="186.30" font-size="2.8" text-anchor="end" fill="#aaa" style="font-weight:normal">0</text>
<text x="418.50" y="166.83" font-size="2.8" text-anchor="end" fill="#aaa" style="font-weight:normal">100</text>
<text x="418.50" y="147.35" font-size="2.8" text-anchor="end" fill="#aaa" style="font-weight:normal">200</text>
<text x="418.50" y="127.88" font-size="2.8" text-anchor="end" fill="#aaa" style="font-weight:normal">300</text>
<text x="422.70" y="190.50" font-size="3.0" fill="#8a8a8a" style="font-weight:normal">10<tspan dy="-1.2" font-size="2.2">0</tspan></text>
<line x1="425.70" y1="185.30" x2="425.70" y2="186.50" stroke="#777" stroke-width="0.5" />
<text x="435.50" y="190.50" font-size="3.0" fill="#8a8a8a" style="font-weight:normal">10<tspan dy="-1.2" font-size="2.2">1</tspan></text>
<line x1="438.50" y1="185.30" x2="438.50" y2="186.50" stroke="#777" stroke-width="0.5" />
<text x="450.80" y="190.50" font-size="3.0" fill="#8a8a8a" style="font-weight:normal">10<tspan dy="-1.2" font-size="2.2">2</tspan></text>
<line x1="453.80" y1="185.30" x2="453.80" y2="186.50" stroke="#777" stroke-width="0.5" />
<text x="465.30" y="190.50" font-size="3.0" fill="#8a8a8a" style="font-weight:normal">10<tspan dy="-1.2" font-size="2.2">3</tspan></text>
<line x1="468.30" y1="185.30" x2="468.30" y2="186.50" stroke="#777" stroke-width="0.5" />
<text x="476.90" y="190.50" font-size="3.0" fill="#8a8a8a" style="font-weight:normal">10<tspan dy="-1.2" font-size="2.2">4</tspan></text>
<line x1="479.90" y1="185.30" x2="479.90" y2="186.50" stroke="#777" stroke-width="0.5" />
<line x1="424.00" y1="133.80" x2="464.00" y2="133.80" stroke="#d4d4d4" stroke-width="0.7" stroke-dasharray="1.2,0.8"/>
<path d="M421.10,185.00 C424.42,185.04 434.89,186.01 439.20,185.20 C443.51,184.39 443.04,182.43 444.60,180.60 C446.16,178.77 446.71,182.19 447.70,175.20 C448.69,168.21 449.25,144.88 450.00,142.50 C450.75,140.12 451.01,164.75 451.80,162.20 C452.59,159.65 453.44,128.47 454.30,128.60 C455.16,128.73 455.68,160.35 456.50,162.90 C457.32,165.45 457.96,141.09 458.80,142.50 C459.64,143.91 460.31,166.66 461.10,170.60 C461.89,174.54 462.31,163.28 463.10,164.00 C463.89,164.72 464.50,174.22 465.40,174.50 C466.30,174.78 467.01,164.09 468.00,165.50 C468.99,166.91 469.02,178.64 470.80,182.20 C472.58,185.76 475.56,184.37 477.70,184.90 C479.84,185.43 481.45,185.08 482.50,185.10 C483.55,185.12 483.23,185.02 483.40,185.00" fill="none" stroke="#3c3c3c" stroke-width="0.95" stroke-linejoin="round"/>
<line x1="420.10" y1="185.30" x2="484.40" y2="185.30" stroke="#333" stroke-width="1.1" />
<text x="0" y="0" transform="translate(424.90,129.70) scale(1.07,1)" font-size="8.1" text-anchor="start" fill="#111" stroke="#111" stroke-width="0.32" >51.5%</text>
<path d="M59.70,267.00 V202.80 H124.20 V267.00" fill="none" stroke="#7a7a7a" stroke-width="0.9"/>
<line x1="58.10" y1="266.50" x2="59.70" y2="266.50" stroke="#8a8a8a" stroke-width="0.6" />
<line x1="58.10" y1="252.06" x2="59.70" y2="252.06" stroke="#8a8a8a" stroke-width="0.6" />
<line x1="58.10" y1="237.61" x2="59.70" y2="237.61" stroke="#8a8a8a" stroke-width="0.6" />
<line x1="58.10" y1="223.17" x2="59.70" y2="223.17" stroke="#8a8a8a" stroke-width="0.6" />
<line x1="58.10" y1="208.72" x2="59.70" y2="208.72" stroke="#8a8a8a" stroke-width="0.6" />
<text x="57.70" y="268.00" font-size="2.8" text-anchor="end" fill="#aaa" style="font-weight:normal">0</text>
<text x="57.70" y="248.31" font-size="2.8" text-anchor="end" fill="#aaa" style="font-weight:normal">100</text>
<text x="57.70" y="228.62" font-size="2.8" text-anchor="end" fill="#aaa" style="font-weight:normal">200</text>
<text x="57.70" y="208.94" font-size="2.8" text-anchor="end" fill="#aaa" style="font-weight:normal">300</text>
<text x="61.90" y="272.20" font-size="3.0" fill="#8a8a8a" style="font-weight:normal">10<tspan dy="-1.2" font-size="2.2">0</tspan></text>
<line x1="64.90" y1="267.00" x2="64.90" y2="268.20" stroke="#777" stroke-width="0.5" />
<text x="74.70" y="272.20" font-size="3.0" fill="#8a8a8a" style="font-weight:normal">10<tspan dy="-1.2" font-size="2.2">1</tspan></text>
<line x1="77.70" y1="267.00" x2="77.70" y2="268.20" stroke="#777" stroke-width="0.5" />
<text x="90.00" y="272.20" font-size="3.0" fill="#8a8a8a" style="font-weight:normal">10<tspan dy="-1.2" font-size="2.2">2</tspan></text>
<line x1="93.00" y1="267.00" x2="93.00" y2="268.20" stroke="#777" stroke-width="0.5" />
<text x="104.50" y="272.20" font-size="3.0" fill="#8a8a8a" style="font-weight:normal">10<tspan dy="-1.2" font-size="2.2">3</tspan></text>
<line x1="107.50" y1="267.00" x2="107.50" y2="268.20" stroke="#777" stroke-width="0.5" />
<text x="116.10" y="272.20" font-size="3.0" fill="#8a8a8a" style="font-weight:normal">10<tspan dy="-1.2" font-size="2.2">4</tspan></text>
<line x1="119.10" y1="267.00" x2="119.10" y2="268.20" stroke="#777" stroke-width="0.5" />
<line x1="63.20" y1="214.80" x2="103.20" y2="214.80" stroke="#d4d4d4" stroke-width="0.7" stroke-dasharray="1.2,0.8"/>
<path d="M60.30,266.70 C60.25,264.70 59.89,255.89 60.00,255.80 C60.11,255.71 60.22,264.33 60.90,266.20 C61.58,268.07 62.18,266.42 63.70,266.00 C65.22,265.58 67.55,264.12 69.20,263.90 C70.85,263.68 71.14,264.87 72.70,264.80 C74.26,264.73 76.23,263.54 77.70,263.50 C79.17,263.46 79.71,264.95 80.70,264.60 C81.69,264.25 82.09,264.11 83.10,261.60 C84.11,259.09 85.21,257.52 86.20,250.90 C87.19,244.28 87.86,226.78 88.50,225.50 C89.14,224.22 89.08,246.58 89.70,243.90 C90.32,241.22 91.06,211.47 91.90,210.90 C92.74,210.33 93.46,239.41 94.30,240.80 C95.14,242.19 95.66,216.37 96.50,218.50 C97.34,220.63 97.98,248.66 98.90,252.40 C99.82,256.14 100.60,237.93 101.50,238.90 C102.40,239.87 102.90,257.20 103.80,257.70 C104.70,258.19 105.41,240.89 106.40,241.60 C107.39,242.32 108.27,257.59 109.20,261.60 C110.14,265.62 109.67,262.71 111.50,263.50 C113.33,264.29 117.15,265.42 119.20,265.90 C121.25,266.38 121.89,265.95 122.70,266.10 C123.51,266.25 123.44,266.59 123.60,266.70" fill="none" stroke="#3c3c3c" stroke-width="0.95" stroke-linejoin="round"/>
<line x1="59.30" y1="267.00" x2="124.60" y2="267.00" stroke="#333" stroke-width="1.1" />
<text x="0" y="0" transform="translate(64.10,210.00) scale(1.07,1)" font-size="8.1" text-anchor="start" fill="#111" stroke="#111" stroke-width="0.32" >24.0%</text>
<path d="M132.30,267.00 V202.80 H196.80 V267.00" fill="none" stroke="#7a7a7a" stroke-width="0.9"/>
<line x1="130.70" y1="266.50" x2="132.30" y2="266.50" stroke="#8a8a8a" stroke-width="0.6" />
<line x1="130.70" y1="252.06" x2="132.30" y2="252.06" stroke="#8a8a8a" stroke-width="0.6" />
<line x1="130.70" y1="237.61" x2="132.30" y2="237.61" stroke="#8a8a8a" stroke-width="0.6" />
<line x1="130.70" y1="223.17" x2="132.30" y2="223.17" stroke="#8a8a8a" stroke-width="0.6" />
<line x1="130.70" y1="208.72" x2="132.30" y2="208.72" stroke="#8a8a8a" stroke-width="0.6" />
<text x="130.30" y="268.00" font-size="2.8" text-anchor="end" fill="#aaa" style="font-weight:normal">0</text>
<text x="130.30" y="248.31" font-size="2.8" text-anchor="end" fill="#aaa" style="font-weight:normal">100</text>
<text x="130.30" y="228.62" font-size="2.8" text-anchor="end" fill="#aaa" style="font-weight:normal">200</text>
<text x="130.30" y="208.94" font-size="2.8" text-anchor="end" fill="#aaa" style="font-weight:normal">300</text>
<text x="134.50" y="272.20" font-size="3.0" fill="#8a8a8a" style="font-weight:normal">10<tspan dy="-1.2" font-size="2.2">0</tspan></text>
<line x1="137.50" y1="267.00" x2="137.50" y2="268.20" stroke="#777" stroke-width="0.5" />
<text x="147.30" y="272.20" font-size="3.0" fill="#8a8a8a" style="font-weight:normal">10<tspan dy="-1.2" font-size="2.2">1</tspan></text>
<line x1="150.30" y1="267.00" x2="150.30" y2="268.20" stroke="#777" stroke-width="0.5" />
<text x="162.60" y="272.20" font-size="3.0" fill="#8a8a8a" style="font-weight:normal">10<tspan dy="-1.2" font-size="2.2">2</tspan></text>
<line x1="165.60" y1="267.00" x2="165.60" y2="268.20" stroke="#777" stroke-width="0.5" />
<text x="177.10" y="272.20" font-size="3.0" fill="#8a8a8a" style="font-weight:normal">10<tspan dy="-1.2" font-size="2.2">3</tspan></text>
<line x1="180.10" y1="267.00" x2="180.10" y2="268.20" stroke="#777" stroke-width="0.5" />
<text x="188.70" y="272.20" font-size="3.0" fill="#8a8a8a" style="font-weight:normal">10<tspan dy="-1.2" font-size="2.2">4</tspan></text>
<line x1="191.70" y1="267.00" x2="191.70" y2="268.20" stroke="#777" stroke-width="0.5" />
<line x1="135.80" y1="214.80" x2="175.80" y2="214.80" stroke="#d4d4d4" stroke-width="0.7" stroke-dasharray="1.2,0.8"/>
<path d="M132.90,266.70 C135.71,266.61 144.55,266.99 148.20,266.20 C151.85,265.41 151.11,265.50 152.80,262.40 C154.49,259.30 155.99,257.95 157.40,249.30 C158.81,240.65 159.60,217.31 160.50,215.20 C161.40,213.09 161.60,237.62 162.30,237.80 C163.00,237.98 163.46,214.09 164.30,216.20 C165.14,218.31 166.00,247.80 166.90,249.30 C167.80,250.80 168.36,223.56 169.20,224.40 C170.04,225.24 170.66,251.37 171.50,253.90 C172.34,256.43 172.94,237.63 173.80,238.20 C174.66,238.77 175.27,256.43 176.20,257.00 C177.14,257.57 177.89,240.31 178.90,241.30 C179.91,242.29 180.86,258.17 181.70,262.40 C182.54,266.64 181.74,263.76 183.50,264.40 C185.26,265.04 189.14,265.59 191.30,265.90 C193.46,266.21 194.40,265.95 195.30,266.10 C196.20,266.25 196.04,266.59 196.20,266.70" fill="none" stroke="#3c3c3c" stroke-width="0.95" stroke-linejoin="round"/>
<line x1="131.90" y1="267.00" x2="197.20" y2="267.00" stroke="#333" stroke-width="1.1" />
<text x="0" y="0" transform="translate(136.50,210.00) scale(1.07,1)" font-size="8.1" text-anchor="start" fill="#111" stroke="#111" stroke-width="0.32" >28.4%</text>
<path d="M204.30,267.00 V202.80 H268.80 V267.00" fill="none" stroke="#7a7a7a" stroke-width="0.9"/>
<line x1="202.70" y1="266.50" x2="204.30" y2="266.50" stroke="#8a8a8a" stroke-width="0.6" />
<line x1="202.70" y1="252.06" x2="204.30" y2="252.06" stroke="#8a8a8a" stroke-width="0.6" />
<line x1="202.70" y1="237.61" x2="204.30" y2="237.61" stroke="#8a8a8a" stroke-width="0.6" />
<line x1="202.70" y1="223.17" x2="204.30" y2="223.17" stroke="#8a8a8a" stroke-width="0.6" />
<line x1="202.70" y1="208.72" x2="204.30" y2="208.72" stroke="#8a8a8a" stroke-width="0.6" />
<text x="202.30" y="268.00" font-size="2.8" text-anchor="end" fill="#aaa" style="font-weight:normal">0</text>
<text x="202.30" y="248.31" font-size="2.8" text-anchor="end" fill="#aaa" style="font-weight:normal">100</text>
<text x="202.30" y="228.62" font-size="2.8" text-anchor="end" fill="#aaa" style="font-weight:normal">200</text>
<text x="202.30" y="208.94" font-size="2.8" text-anchor="end" fill="#aaa" style="font-weight:normal">300</text>
<text x="206.50" y="272.20" font-size="3.0" fill="#8a8a8a" style="font-weight:normal">10<tspan dy="-1.2" font-size="2.2">0</tspan></text>
<line x1="209.50" y1="267.00" x2="209.50" y2="268.20" stroke="#777" stroke-width="0.5" />
<text x="219.30" y="272.20" font-size="3.0" fill="#8a8a8a" style="font-weight:normal">10<tspan dy="-1.2" font-size="2.2">1</tspan></text>
<line x1="222.30" y1="267.00" x2="222.30" y2="268.20" stroke="#777" stroke-width="0.5" />
<text x="234.60" y="272.20" font-size="3.0" fill="#8a8a8a" style="font-weight:normal">10<tspan dy="-1.2" font-size="2.2">2</tspan></text>
<line x1="237.60" y1="267.00" x2="237.60" y2="268.20" stroke="#777" stroke-width="0.5" />
<text x="249.10" y="272.20" font-size="3.0" fill="#8a8a8a" style="font-weight:normal">10<tspan dy="-1.2" font-size="2.2">3</tspan></text>
<line x1="252.10" y1="267.00" x2="252.10" y2="268.20" stroke="#777" stroke-width="0.5" />
<text x="260.70" y="272.20" font-size="3.0" fill="#8a8a8a" style="font-weight:normal">10<tspan dy="-1.2" font-size="2.2">4</tspan></text>
<line x1="263.70" y1="267.00" x2="263.70" y2="268.20" stroke="#777" stroke-width="0.5" />
<line x1="207.80" y1="214.80" x2="247.80" y2="214.80" stroke="#d4d4d4" stroke-width="0.7" stroke-dasharray="1.2,0.8"/>
<path d="M204.90,266.70 C207.14,266.61 214.02,266.84 217.10,266.20 C220.18,265.56 220.16,265.73 221.70,263.20 C223.24,260.67 224.56,254.67 225.50,252.40 C226.44,250.13 226.14,253.86 226.80,250.80 C227.46,247.74 228.46,237.75 229.10,235.70 C229.74,233.65 229.68,243.27 230.30,239.60 C230.92,235.93 231.73,214.86 232.50,215.70 C233.27,216.54 233.75,243.12 234.50,244.20 C235.25,245.28 235.76,220.34 236.60,221.60 C237.44,222.87 238.31,247.25 239.10,251.10 C239.89,254.95 240.09,241.34 240.90,242.60 C241.71,243.87 242.62,256.44 243.50,258.00 C244.38,259.56 244.84,250.95 245.70,251.10 C246.56,251.25 247.16,258.62 248.20,258.80 C249.25,258.98 250.28,251.35 251.40,252.10 C252.52,252.85 253.25,260.59 254.30,262.90 C255.35,265.21 255.45,264.15 257.10,264.70 C258.75,265.25 261.43,265.64 263.30,265.90 C265.17,266.16 266.40,265.95 267.30,266.10 C268.20,266.25 268.03,266.59 268.20,266.70" fill="none" stroke="#3c3c3c" stroke-width="0.95" stroke-linejoin="round"/>
<line x1="203.90" y1="267.00" x2="269.20" y2="267.00" stroke="#333" stroke-width="1.1" />
<text x="0" y="0" transform="translate(209.20,210.00) scale(1.07,1)" font-size="8.1" text-anchor="start" fill="#111" stroke="#111" stroke-width="0.32" >45.1%</text>
<path d="M276.30,267.00 V202.80 H340.80 V267.00" fill="none" stroke="#7a7a7a" stroke-width="0.9"/>
<line x1="274.70" y1="266.50" x2="276.30" y2="266.50" stroke="#8a8a8a" stroke-width="0.6" />
<line x1="274.70" y1="252.06" x2="276.30" y2="252.06" stroke="#8a8a8a" stroke-width="0.6" />
<line x1="274.70" y1="237.61" x2="276.30" y2="237.61" stroke="#8a8a8a" stroke-width="0.6" />
<line x1="274.70" y1="223.17" x2="276.30" y2="223.17" stroke="#8a8a8a" stroke-width="0.6" />
<line x1="274.70" y1="208.72" x2="276.30" y2="208.72" stroke="#8a8a8a" stroke-width="0.6" />
<text x="274.30" y="268.00" font-size="2.8" text-anchor="end" fill="#aaa" style="font-weight:normal">0</text>
<text x="274.30" y="248.31" font-size="2.8" text-anchor="end" fill="#aaa" style="font-weight:normal">100</text>
<text x="274.30" y="228.62" font-size="2.8" text-anchor="end" fill="#aaa" style="font-weight:normal">200</text>
<text x="274.30" y="208.94" font-size="2.8" text-anchor="end" fill="#aaa" style="font-weight:normal">300</text>
<text x="278.50" y="272.20" font-size="3.0" fill="#8a8a8a" style="font-weight:normal">10<tspan dy="-1.2" font-size="2.2">0</tspan></text>
<line x1="281.50" y1="267.00" x2="281.50" y2="268.20" stroke="#777" stroke-width="0.5" />
<text x="291.30" y="272.20" font-size="3.0" fill="#8a8a8a" style="font-weight:normal">10<tspan dy="-1.2" font-size="2.2">1</tspan></text>
<line x1="294.30" y1="267.00" x2="294.30" y2="268.20" stroke="#777" stroke-width="0.5" />
<text x="306.60" y="272.20" font-size="3.0" fill="#8a8a8a" style="font-weight:normal">10<tspan dy="-1.2" font-size="2.2">2</tspan></text>
<line x1="309.60" y1="267.00" x2="309.60" y2="268.20" stroke="#777" stroke-width="0.5" />
<text x="321.10" y="272.20" font-size="3.0" fill="#8a8a8a" style="font-weight:normal">10<tspan dy="-1.2" font-size="2.2">3</tspan></text>
<line x1="324.10" y1="267.00" x2="324.10" y2="268.20" stroke="#777" stroke-width="0.5" />
<text x="332.70" y="272.20" font-size="3.0" fill="#8a8a8a" style="font-weight:normal">10<tspan dy="-1.2" font-size="2.2">4</tspan></text>
<line x1="335.70" y1="267.00" x2="335.70" y2="268.20" stroke="#777" stroke-width="0.5" />
<line x1="279.80" y1="214.80" x2="319.80" y2="214.80" stroke="#d4d4d4" stroke-width="0.7" stroke-dasharray="1.2,0.8"/>
<path d="M276.90,266.70 C278.84,266.61 284.84,266.71 287.50,266.20 C290.16,265.69 289.97,265.86 291.40,263.90 C292.83,261.94 293.89,259.59 295.30,255.50 C296.71,251.41 297.98,245.69 299.10,241.60 C300.22,237.51 300.70,235.46 301.40,233.20 C302.10,230.95 302.28,233.33 302.90,229.30 C303.52,225.27 304.09,210.49 304.80,211.20 C305.51,211.92 306.12,230.45 306.80,233.20 C307.48,235.95 307.66,222.83 308.50,226.20 C309.34,229.57 310.52,248.21 311.40,251.60 C312.28,254.99 312.55,243.44 313.30,244.70 C314.05,245.97 314.68,256.76 315.50,258.50 C316.32,260.24 316.94,253.91 317.80,254.20 C318.66,254.49 319.17,261.00 320.20,260.10 C321.23,259.20 322.28,248.73 323.40,249.30 C324.52,249.87 324.12,260.16 326.30,263.20 C328.48,266.24 332.92,265.37 335.30,265.90 C337.68,266.43 338.40,265.95 339.30,266.10 C340.20,266.25 340.03,266.59 340.20,266.70" fill="none" stroke="#3c3c3c" stroke-width="0.95" stroke-linejoin="round"/>
<line x1="275.90" y1="267.00" x2="341.20" y2="267.00" stroke="#333" stroke-width="1.1" />
<text x="0" y="0" transform="translate(280.90,210.00) scale(1.07,1)" font-size="8.1" text-anchor="start" fill="#111" stroke="#111" stroke-width="0.32" >53.2%</text>
<path d="M349.10,267.00 V202.80 H413.60 V267.00" fill="none" stroke="#7a7a7a" stroke-width="0.9"/>
<line x1="347.50" y1="266.50" x2="349.10" y2="266.50" stroke="#8a8a8a" stroke-width="0.6" />
<line x1="347.50" y1="252.06" x2="349.10" y2="252.06" stroke="#8a8a8a" stroke-width="0.6" />
<line x1="347.50" y1="237.61" x2="349.10" y2="237.61" stroke="#8a8a8a" stroke-width="0.6" />
<line x1="347.50" y1="223.17" x2="349.10" y2="223.17" stroke="#8a8a8a" stroke-width="0.6" />
<line x1="347.50" y1="208.72" x2="349.10" y2="208.72" stroke="#8a8a8a" stroke-width="0.6" />
<text x="347.10" y="268.00" font-size="2.8" text-anchor="end" fill="#aaa" style="font-weight:normal">0</text>
<text x="347.10" y="248.31" font-size="2.8" text-anchor="end" fill="#aaa" style="font-weight:normal">100</text>
<text x="347.10" y="228.62" font-size="2.8" text-anchor="end" fill="#aaa" style="font-weight:normal">200</text>
<text x="347.10" y="208.94" font-size="2.8" text-anchor="end" fill="#aaa" style="font-weight:normal">300</text>
<text x="351.30" y="272.20" font-size="3.0" fill="#8a8a8a" style="font-weight:normal">10<tspan dy="-1.2" font-size="2.2">0</tspan></text>
<line x1="354.30" y1="267.00" x2="354.30" y2="268.20" stroke="#777" stroke-width="0.5" />
<text x="364.10" y="272.20" font-size="3.0" fill="#8a8a8a" style="font-weight:normal">10<tspan dy="-1.2" font-size="2.2">1</tspan></text>
<line x1="367.10" y1="267.00" x2="367.10" y2="268.20" stroke="#777" stroke-width="0.5" />
<text x="379.40" y="272.20" font-size="3.0" fill="#8a8a8a" style="font-weight:normal">10<tspan dy="-1.2" font-size="2.2">2</tspan></text>
<line x1="382.40" y1="267.00" x2="382.40" y2="268.20" stroke="#777" stroke-width="0.5" />
<text x="393.90" y="272.20" font-size="3.0" fill="#8a8a8a" style="font-weight:normal">10<tspan dy="-1.2" font-size="2.2">3</tspan></text>
<line x1="396.90" y1="267.00" x2="396.90" y2="268.20" stroke="#777" stroke-width="0.5" />
<text x="405.50" y="272.20" font-size="3.0" fill="#8a8a8a" style="font-weight:normal">10<tspan dy="-1.2" font-size="2.2">4</tspan></text>
<line x1="408.50" y1="267.00" x2="408.50" y2="268.20" stroke="#777" stroke-width="0.5" />
<line x1="352.60" y1="214.80" x2="392.60" y2="214.80" stroke="#d4d4d4" stroke-width="0.7" stroke-dasharray="1.2,0.8"/>
<path d="M349.70,266.70 C351.79,266.61 358.17,267.13 361.10,266.20 C364.03,265.26 363.87,264.85 365.70,261.60 C367.53,258.36 369.84,252.44 371.10,248.50 C372.37,244.56 372.12,243.62 372.60,240.10 C373.08,236.58 373.28,230.44 373.70,229.30 C374.12,228.16 374.26,237.29 374.90,233.90 C375.54,230.51 376.43,209.96 377.20,210.80 C377.97,211.64 378.44,235.25 379.10,238.50 C379.76,241.75 379.99,225.68 380.80,228.50 C381.61,231.32 382.66,250.09 383.50,253.90 C384.34,257.71 384.67,249.01 385.40,249.30 C386.13,249.59 386.71,254.66 387.50,255.50 C388.29,256.34 388.84,252.49 389.70,253.90 C390.56,255.31 391.08,264.32 392.20,263.20 C393.32,262.08 394.59,247.58 395.80,247.80 C397.01,248.02 396.42,261.08 398.80,264.40 C401.18,267.72 406.36,265.59 408.80,265.90 C411.24,266.21 411.33,265.95 412.10,266.10 C412.87,266.25 412.83,266.59 413.00,266.70" fill="none" stroke="#3c3c3c" stroke-width="0.95" stroke-linejoin="round"/>
<line x1="348.70" y1="267.00" x2="414.00" y2="267.00" stroke="#333" stroke-width="1.1" />
<text x="0" y="0" transform="translate(352.10,210.00) scale(1.07,1)" font-size="8.1" text-anchor="start" fill="#111" stroke="#111" stroke-width="0.32" >53.4%</text>
<path d="M421.20,267.00 V202.80 H485.70 V267.00" fill="none" stroke="#7a7a7a" stroke-width="0.9"/>
<line x1="419.60" y1="266.50" x2="421.20" y2="266.50" stroke="#8a8a8a" stroke-width="0.6" />
<line x1="419.60" y1="252.06" x2="421.20" y2="252.06" stroke="#8a8a8a" stroke-width="0.6" />
<line x1="419.60" y1="237.61" x2="421.20" y2="237.61" stroke="#8a8a8a" stroke-width="0.6" />
<line x1="419.60" y1="223.17" x2="421.20" y2="223.17" stroke="#8a8a8a" stroke-width="0.6" />
<line x1="419.60" y1="208.72" x2="421.20" y2="208.72" stroke="#8a8a8a" stroke-width="0.6" />
<text x="419.20" y="268.00" font-size="2.8" text-anchor="end" fill="#aaa" style="font-weight:normal">0</text>
<text x="419.20" y="248.31" font-size="2.8" text-anchor="end" fill="#aaa" style="font-weight:normal">100</text>
<text x="419.20" y="228.62" font-size="2.8" text-anchor="end" fill="#aaa" style="font-weight:normal">200</text>
<text x="419.20" y="208.94" font-size="2.8" text-anchor="end" fill="#aaa" style="font-weight:normal">300</text>
<text x="423.40" y="272.20" font-size="3.0" fill="#8a8a8a" style="font-weight:normal">10<tspan dy="-1.2" font-size="2.2">0</tspan></text>
<line x1="426.40" y1="267.00" x2="426.40" y2="268.20" stroke="#777" stroke-width="0.5" />
<text x="436.20" y="272.20" font-size="3.0" fill="#8a8a8a" style="font-weight:normal">10<tspan dy="-1.2" font-size="2.2">1</tspan></text>
<line x1="439.20" y1="267.00" x2="439.20" y2="268.20" stroke="#777" stroke-width="0.5" />
<text x="451.50" y="272.20" font-size="3.0" fill="#8a8a8a" style="font-weight:normal">10<tspan dy="-1.2" font-size="2.2">2</tspan></text>
<line x1="454.50" y1="267.00" x2="454.50" y2="268.20" stroke="#777" stroke-width="0.5" />
<text x="466.00" y="272.20" font-size="3.0" fill="#8a8a8a" style="font-weight:normal">10<tspan dy="-1.2" font-size="2.2">3</tspan></text>
<line x1="469.00" y1="267.00" x2="469.00" y2="268.20" stroke="#777" stroke-width="0.5" />
<text x="477.60" y="272.20" font-size="3.0" fill="#8a8a8a" style="font-weight:normal">10<tspan dy="-1.2" font-size="2.2">4</tspan></text>
<line x1="480.60" y1="267.00" x2="480.60" y2="268.20" stroke="#777" stroke-width="0.5" />
<line x1="424.70" y1="214.80" x2="464.70" y2="214.80" stroke="#d4d4d4" stroke-width="0.7" stroke-dasharray="1.2,0.8"/>
<path d="M421.80,266.70 C423.58,266.61 428.86,266.84 431.50,266.20 C434.14,265.56 434.64,264.74 436.20,263.20 C437.76,261.66 439.03,260.62 440.00,257.80 C440.97,254.98 440.93,250.20 441.50,247.80 C442.07,245.40 442.53,246.68 443.10,244.70 C443.67,242.72 443.98,242.22 444.60,237.00 C445.22,231.78 445.84,217.47 446.50,216.20 C447.16,214.94 447.50,230.94 448.20,230.10 C448.90,229.26 449.64,209.07 450.30,211.60 C450.96,214.13 451.21,239.02 451.80,243.90 C452.39,248.78 452.56,236.07 453.50,238.20 C454.44,240.33 455.91,253.25 456.90,255.50 C457.89,257.75 458.13,249.66 458.90,250.50 C459.67,251.34 460.33,258.49 461.10,260.10 C461.87,261.71 462.37,258.73 463.10,259.30 C463.83,259.87 464.11,263.77 465.10,263.20 C466.09,262.63 467.45,255.78 468.50,256.20 C469.55,256.62 468.55,263.67 470.80,265.50 C473.06,267.33 478.34,266.07 480.80,266.20 C483.26,266.33 483.41,266.11 484.20,266.20 C484.99,266.29 484.93,266.61 485.10,266.70" fill="none" stroke="#3c3c3c" stroke-width="0.95" stroke-linejoin="round"/>
<line x1="420.80" y1="267.00" x2="486.10" y2="267.00" stroke="#333" stroke-width="1.1" />
<text x="0" y="0" transform="translate(424.90,210.00) scale(1.07,1)" font-size="8.1" text-anchor="start" fill="#111" stroke="#111" stroke-width="0.32" >60.7%</text>
<line x1="46.40" y1="46.50" x2="46.40" y2="232.50" stroke="#444" stroke-width="1.0" />
<path d="M44.9,48.2 L46.4,44.8 L47.9,48.2" fill="none" stroke="#444" stroke-width="0.9"/>
<text x="0.00" y="0.00" font-size="8.6" text-anchor="start" fill="#111" stroke="#111" stroke-width="0.4" transform="translate(48.9,268) rotate(-90)">Counts</text>
<text x="63.50" y="286.90" font-size="8.9" text-anchor="start" fill="#111" stroke="#111" stroke-width="0.4" >CFSE</text>
<line x1="90.80" y1="283.50" x2="474.50" y2="283.50" stroke="#444" stroke-width="1.0" />
<path d="M470.6,281.2 L474.8,283.5 L470.6,285.8" fill="none" stroke="#444" stroke-width="0.9"/>
<text x="23.70" y="324.50" font-size="11.2" text-anchor="start" fill="#111" stroke="#111" stroke-width="0.6" >B</text>
<line x1="73.60" y1="331.00" x2="73.60" y2="443.80" stroke="#111" stroke-width="1.4" />
<line x1="72.60" y1="441.00" x2="239.60" y2="441.00" stroke="#111" stroke-width="1.3" />
<line x1="239.00" y1="441.00" x2="239.00" y2="444.60" stroke="#111" stroke-width="1.2" />
<line x1="70.00" y1="441.00" x2="73.60" y2="441.00" stroke="#111" stroke-width="1.1" />
<text x="0" y="0" transform="translate(69.20,443.80) scale(1.09,1)" font-size="7.9" text-anchor="end" fill="#111" stroke="#111" stroke-width="0.4" >0</text>
<line x1="70.00" y1="413.75" x2="73.60" y2="413.75" stroke="#111" stroke-width="1.1" />
<text x="0" y="0" transform="translate(69.20,416.55) scale(1.09,1)" font-size="7.9" text-anchor="end" fill="#111" stroke="#111" stroke-width="0.4" >20</text>
<line x1="70.00" y1="386.50" x2="73.60" y2="386.50" stroke="#111" stroke-width="1.1" />
<text x="0" y="0" transform="translate(69.20,389.30) scale(1.09,1)" font-size="7.9" text-anchor="end" fill="#111" stroke="#111" stroke-width="0.4" >40</text>
<line x1="70.00" y1="359.25" x2="73.60" y2="359.25" stroke="#111" stroke-width="1.1" />
<text x="0" y="0" transform="translate(69.20,362.05) scale(1.09,1)" font-size="7.9" text-anchor="end" fill="#111" stroke="#111" stroke-width="0.4" >60</text>
<line x1="70.00" y1="332.00" x2="73.60" y2="332.00" stroke="#111" stroke-width="1.1" />
<text x="0" y="0" transform="translate(69.20,334.80) scale(1.09,1)" font-size="7.9" text-anchor="end" fill="#111" stroke="#111" stroke-width="0.4" >80</text>
<line x1="106.30" y1="441.00" x2="106.30" y2="444.60" stroke="#111" stroke-width="1.1" />
<text x="0" y="0" transform="translate(106.30,453.80) scale(1.09,1)" font-size="7.9" text-anchor="middle" fill="#111" stroke="#111" stroke-width="0.4" >1</text>
<line x1="139.40" y1="441.00" x2="139.40" y2="444.60" stroke="#111" stroke-width="1.1" />
<text x="0" y="0" transform="translate(139.40,453.80) scale(1.09,1)" font-size="7.9" text-anchor="middle" fill="#111" stroke="#111" stroke-width="0.4" >5</text>
<line x1="172.40" y1="441.00" x2="172.40" y2="444.60" stroke="#111" stroke-width="1.1" />
<text x="0" y="0" transform="translate(173.40,453.80) scale(1.09,1)" font-size="7.9" text-anchor="middle" fill="#111" stroke="#111" stroke-width="0.4" >10</text>
<line x1="205.40" y1="441.00" x2="205.40" y2="444.60" stroke="#111" stroke-width="1.1" />
<text x="0" y="0" transform="translate(206.40,453.80) scale(1.09,1)" font-size="7.9" text-anchor="middle" fill="#111" stroke="#111" stroke-width="0.4" >20</text>
<text x="156.30" y="461.80" font-size="8.6" text-anchor="middle" fill="#111" stroke="#111" stroke-width="0.4" >E:T</text>
<text x="0.00" y="0.00" font-size="8.6" text-anchor="start" fill="#111" stroke="#111" stroke-width="0.4" transform="translate(53.6,402.5) rotate(-90)">Lysis (%)</text>
<path d="M106.30,440.32 L139.40,432.69 L172.40,427.24 L205.40,414.43" fill="none" stroke="#111" stroke-width="1.6"/>
<line x1="106.30" y1="438.96" x2="106.30" y2="441.68" stroke="#111" stroke-width="1.0" />
<line x1="104.10" y1="438.96" x2="108.50" y2="438.96" stroke="#111" stroke-width="1.0" />
<line x1="104.10" y1="441.68" x2="108.50" y2="441.68" stroke="#111" stroke-width="1.0" />
<rect x="103.90" y="437.92" width="4.80" height="4.80" fill="#111" stroke="none" stroke-width="0" />
<line x1="139.40" y1="430.65" x2="139.40" y2="434.73" stroke="#111" stroke-width="1.0" />
<line x1="137.20" y1="430.65" x2="141.60" y2="430.65" stroke="#111" stroke-width="1.0" />
<line x1="137.20" y1="434.73" x2="141.60" y2="434.73" stroke="#111" stroke-width="1.0" />
<rect x="137.00" y="430.29" width="4.80" height="4.80" fill="#111" stroke="none" stroke-width="0" />
<line x1="172.40" y1="421.79" x2="172.40" y2="432.69" stroke="#111" stroke-width="1.0" />
<line x1="170.20" y1="421.79" x2="174.60" y2="421.79" stroke="#111" stroke-width="1.0" />
<line x1="170.20" y1="432.69" x2="174.60" y2="432.69" stroke="#111" stroke-width="1.0" />
<rect x="170.00" y="424.84" width="4.80" height="4.80" fill="#111" stroke="none" stroke-width="0" />
<line x1="205.40" y1="410.89" x2="205.40" y2="417.97" stroke="#111" stroke-width="1.0" />
<line x1="203.20" y1="410.89" x2="207.60" y2="410.89" stroke="#111" stroke-width="1.0" />
<line x1="203.20" y1="417.97" x2="207.60" y2="417.97" stroke="#111" stroke-width="1.0" />
<rect x="203.00" y="412.03" width="4.80" height="4.80" fill="#111" stroke="none" stroke-width="0" />
<path d="M106.30,433.37 L139.40,416.07 L172.40,391.54 L205.40,346.44" fill="none" stroke="#111" stroke-width="1.5"/>
<line x1="106.30" y1="431.33" x2="106.30" y2="435.41" stroke="#111" stroke-width="1.0" />
<line x1="104.10" y1="431.33" x2="108.50" y2="431.33" stroke="#111" stroke-width="1.0" />
<line x1="104.10" y1="435.41" x2="108.50" y2="435.41" stroke="#111" stroke-width="1.0" />
<circle cx="106.30" cy="433.37" r="2.0" fill="#111"/>
<line x1="139.40" y1="414.98" x2="139.40" y2="417.16" stroke="#111" stroke-width="1.0" />
<line x1="137.20" y1="414.98" x2="141.60" y2="414.98" stroke="#111" stroke-width="1.0" />
<line x1="137.20" y1="417.16" x2="141.60" y2="417.16" stroke="#111" stroke-width="1.0" />
<circle cx="139.40" cy="416.07" r="2.0" fill="#111"/>
<line x1="172.40" y1="387.18" x2="172.40" y2="395.90" stroke="#111" stroke-width="1.0" />
<line x1="170.20" y1="387.18" x2="174.60" y2="387.18" stroke="#111" stroke-width="1.0" />
<line x1="170.20" y1="395.90" x2="174.60" y2="395.90" stroke="#111" stroke-width="1.0" />
<circle cx="172.40" cy="391.54" r="2.0" fill="#111"/>
<line x1="205.40" y1="337.18" x2="205.40" y2="355.71" stroke="#111" stroke-width="1.0" />
<line x1="203.20" y1="337.18" x2="207.60" y2="337.18" stroke="#111" stroke-width="1.0" />
<line x1="203.20" y1="355.71" x2="207.60" y2="355.71" stroke="#111" stroke-width="1.0" />
<circle cx="205.40" cy="346.44" r="2.0" fill="#111"/>
<path d="M106.30,438.27 L139.40,427.51 L172.40,409.80 L205.40,375.06" fill="none" stroke="#4a4a4a" stroke-width="1.2"/>
<line x1="106.30" y1="436.91" x2="106.30" y2="439.64" stroke="#4a4a4a" stroke-width="1.0" />
<line x1="104.10" y1="436.91" x2="108.50" y2="436.91" stroke="#4a4a4a" stroke-width="1.0" />
<line x1="104.10" y1="439.64" x2="108.50" y2="439.64" stroke="#4a4a4a" stroke-width="1.0" />
<path d="M104.10,439.77 L106.30,436.07 L108.50,439.77 Z" fill="#555"/>
<line x1="139.40" y1="423.42" x2="139.40" y2="431.60" stroke="#4a4a4a" stroke-width="1.0" />
<line x1="137.20" y1="423.42" x2="141.60" y2="423.42" stroke="#4a4a4a" stroke-width="1.0" />
<line x1="137.20" y1="431.60" x2="141.60" y2="431.60" stroke="#4a4a4a" stroke-width="1.0" />
<path d="M137.20,429.01 L139.40,425.31 L141.60,429.01 Z" fill="#555"/>
<line x1="172.40" y1="408.71" x2="172.40" y2="410.89" stroke="#4a4a4a" stroke-width="1.0" />
<line x1="170.20" y1="408.71" x2="174.60" y2="408.71" stroke="#4a4a4a" stroke-width="1.0" />
<line x1="170.20" y1="410.89" x2="174.60" y2="410.89" stroke="#4a4a4a" stroke-width="1.0" />
<path d="M170.20,411.30 L172.40,407.60 L174.60,411.30 Z" fill="#555"/>
<line x1="205.40" y1="369.20" x2="205.40" y2="380.91" stroke="#4a4a4a" stroke-width="1.0" />
<line x1="203.20" y1="369.20" x2="207.60" y2="369.20" stroke="#4a4a4a" stroke-width="1.0" />
<line x1="203.20" y1="380.91" x2="207.60" y2="380.91" stroke="#4a4a4a" stroke-width="1.0" />
<path d="M203.20,376.56 L205.40,372.86 L207.60,376.56 Z" fill="#555"/>
<text x="131.90" y="415.50" font-size="6.5" text-anchor="middle" fill="#111" stroke="#111" stroke-width="0.3" letter-spacing="1.1">**</text>
<text x="165.00" y="391.00" font-size="6.5" text-anchor="middle" fill="#111" stroke="#111" stroke-width="0.3" letter-spacing="1.1">*</text>
<text x="167.00" y="411.50" font-size="6.5" text-anchor="middle" fill="#111" stroke="#111" stroke-width="0.3" letter-spacing="1.1">*</text>
<text x="199.80" y="346.00" font-size="6.5" text-anchor="middle" fill="#111" stroke="#111" stroke-width="0.3" letter-spacing="1.1">**</text>
<text x="200.60" y="375.50" font-size="6.5" text-anchor="middle" fill="#111" stroke="#111" stroke-width="0.3" letter-spacing="1.1">*</text>
<line x1="79.80" y1="345.60" x2="91.30" y2="345.60" stroke="#111" stroke-width="1.4" />
<rect x="83.20" y="343.20" width="4.80" height="4.80" fill="#111" stroke="none" stroke-width="0" />
<text x="0" y="0" transform="translate(99.60,347.90) scale(1.09,1)" font-size="7.9" text-anchor="start" fill="#111" stroke="#111" stroke-width="0.4" >PBS</text>
<line x1="79.80" y1="358.10" x2="91.30" y2="358.10" stroke="#111" stroke-width="1.4" />
<circle cx="85.6" cy="358.1" r="1.9" fill="#111"/>
<text x="0" y="0" transform="translate(99.60,360.40) scale(1.09,1)" font-size="7.9" text-anchor="start" fill="#111" stroke="#111" stroke-width="0.4" >rhCC 100 ng/mL</text>
<line x1="79.80" y1="370.60" x2="91.30" y2="370.60" stroke="#5a5a5a" stroke-width="1.4" />
<path d="M83.40,372.10 L85.60,368.40 L87.80,372.10 Z" fill="#555"/>
<text x="0" y="0" transform="translate(99.60,372.90) scale(1.09,1)" font-size="7.9" text-anchor="start" fill="#111" stroke="#111" stroke-width="0.4" >rhIL2 20 ng/mL</text>
<line x1="272.30" y1="336.00" x2="272.30" y2="447.20" stroke="#111" stroke-width="1.3" />
<line x1="271.60" y1="446.50" x2="396.40" y2="446.50" stroke="#111" stroke-width="1.4" />
<line x1="268.60" y1="446.50" x2="272.30" y2="446.50" stroke="#111" stroke-width="1.1" />
<text x="0" y="0" transform="translate(268.00,449.30) scale(1.09,1)" font-size="7.9" text-anchor="end" fill="#111" stroke="#111" stroke-width="0.4" >0</text>
<line x1="268.60" y1="419.10" x2="272.30" y2="419.10" stroke="#111" stroke-width="1.1" />
<text x="0" y="0" transform="translate(268.00,421.90) scale(1.09,1)" font-size="7.9" text-anchor="end" fill="#111" stroke="#111" stroke-width="0.4" >10</text>
<line x1="268.60" y1="391.70" x2="272.30" y2="391.70" stroke="#111" stroke-width="1.1" />
<text x="0" y="0" transform="translate(268.00,394.50) scale(1.09,1)" font-size="7.9" text-anchor="end" fill="#111" stroke="#111" stroke-width="0.4" >20</text>
<line x1="268.60" y1="364.30" x2="272.30" y2="364.30" stroke="#111" stroke-width="1.1" />
<text x="0" y="0" transform="translate(268.00,367.10) scale(1.09,1)" font-size="7.9" text-anchor="end" fill="#111" stroke="#111" stroke-width="0.4" >30</text>
<line x1="268.60" y1="336.90" x2="272.30" y2="336.90" stroke="#111" stroke-width="1.1" />
<text x="0" y="0" transform="translate(268.00,339.70) scale(1.09,1)" font-size="7.9" text-anchor="end" fill="#111" stroke="#111" stroke-width="0.4" >40</text>
<text x="0.00" y="0.00" font-size="8.6" text-anchor="start" fill="#111" stroke="#111" stroke-width="0.4" transform="translate(250.0,403.5) rotate(-90)">Lysis (%)</text>
<line x1="283.80" y1="419.10" x2="283.80" y2="407.87" stroke="#111" stroke-width="1.2" />
<line x1="279.40" y1="407.87" x2="288.20" y2="407.87" stroke="#111" stroke-width="1.3" />
<rect x="276.20" y="419.80" width="15.20" height="26.70" fill="#ffffff" stroke="#111" stroke-width="1.5" />
<line x1="308.95" y1="393.89" x2="308.95" y2="382.11" stroke="#111" stroke-width="1.2" />
<line x1="304.55" y1="382.11" x2="313.35" y2="382.11" stroke="#111" stroke-width="1.3" />
<rect x="301.30" y="394.59" width="15.30" height="51.91" fill="#e0e0e0" stroke="#111" stroke-width="1.5" />
<line x1="333.45" y1="381.29" x2="333.45" y2="368.14" stroke="#111" stroke-width="1.2" />
<line x1="329.05" y1="368.14" x2="337.85" y2="368.14" stroke="#111" stroke-width="1.3" />
<rect x="325.80" y="381.99" width="15.30" height="64.51" fill="#404040" stroke="#111" stroke-width="1.5" />
<line x1="358.05" y1="347.31" x2="358.05" y2="340.19" stroke="#111" stroke-width="1.2" />
<line x1="353.65" y1="340.19" x2="362.45" y2="340.19" stroke="#111" stroke-width="1.3" />
<rect x="350.30" y="348.01" width="15.50" height="98.49" fill="#171717" stroke="#111" stroke-width="1.5" />
<line x1="383.20" y1="383.21" x2="383.20" y2="380.19" stroke="#111" stroke-width="1.2" />
<line x1="378.80" y1="380.19" x2="387.60" y2="380.19" stroke="#111" stroke-width="1.3" />
<rect x="375.30" y="383.91" width="15.80" height="62.59" fill="#a6a6a6" stroke="#111" stroke-width="1.5" />
<text x="333.60" y="368.30" font-size="6.5" text-anchor="middle" fill="#111" stroke="#111" stroke-width="0.3" >*</text>
<text x="358.50" y="339.30" font-size="6.5" text-anchor="middle" fill="#111" stroke="#111" stroke-width="0.3" >*</text>
<text x="383.40" y="379.30" font-size="6.5" text-anchor="middle" fill="#111" stroke="#111" stroke-width="0.3" >*</text>
<text x="335.00" y="458.60" font-size="8.6" text-anchor="middle" fill="#111" stroke="#111" stroke-width="0.4" >E:T = 10:1</text>
<rect x="408.00" y="326.20" width="12.20" height="7.80" fill="#ffffff" stroke="#111" stroke-width="1.2" />
<text x="0" y="0" transform="translate(428.00,332.30) scale(1.09,1)" font-size="7.9" text-anchor="start" fill="#111" stroke="#111" stroke-width="0.4" >PBS</text>
<rect x="408.00" y="338.70" width="12.20" height="7.80" fill="#e2e2e2" stroke="#111" stroke-width="1.2" />
<text x="0" y="0" transform="translate(428.00,344.80) scale(1.09,1)" font-size="7.9" text-anchor="start" fill="#111" stroke="#111" stroke-width="0.4" >rhCC 1 ng/mL</text>
<rect x="408.00" y="351.20" width="12.20" height="7.80" fill="#3e3e3e" stroke="#111" stroke-width="1.2" />
<text x="0" y="0" transform="translate(428.00,357.30) scale(1.09,1)" font-size="7.9" text-anchor="start" fill="#111" stroke="#111" stroke-width="0.4" >rhCC 10 ng/mL</text>
<rect x="408.00" y="363.70" width="12.20" height="7.80" fill="#151515" stroke="#111" stroke-width="1.2" />
<text x="0" y="0" transform="translate(428.00,369.80) scale(1.09,1)" font-size="7.9" text-anchor="start" fill="#111" stroke="#111" stroke-width="0.4" >rhCC 100 ng/mL</text>
<rect x="408.00" y="376.20" width="12.20" height="7.80" fill="#a6a6a6" stroke="#111" stroke-width="1.2" />
<text x="0" y="0" transform="translate(428.00,382.30) scale(1.09,1)" font-size="7.9" text-anchor="start" fill="#111" stroke="#111" stroke-width="0.4" >rhIL2 20 ng/mL</text>
<text x="22.30" y="481.80" font-size="11.2" text-anchor="start" fill="#111" stroke="#111" stroke-width="0.6" >C</text>
<line x1="59.60" y1="494.30" x2="59.60" y2="588.80" stroke="#111" stroke-width="1.3" />
<line x1="59.00" y1="588.20" x2="156.20" y2="588.20" stroke="#111" stroke-width="1.5" />
<line x1="56.30" y1="588.20" x2="59.60" y2="588.20" stroke="#111" stroke-width="1.1" />
<text x="0" y="0" transform="translate(56.00,591.00) scale(1.09,1)" font-size="7.9" text-anchor="end" fill="#111" stroke="#111" stroke-width="0.4" >0</text>
<line x1="56.30" y1="569.52" x2="59.60" y2="569.52" stroke="#111" stroke-width="1.1" />
<text x="0" y="0" transform="translate(56.00,572.32) scale(1.09,1)" font-size="7.9" text-anchor="end" fill="#111" stroke="#111" stroke-width="0.4" >250</text>
<line x1="56.30" y1="550.84" x2="59.60" y2="550.84" stroke="#111" stroke-width="1.1" />
<text x="0" y="0" transform="translate(56.00,553.64) scale(1.09,1)" font-size="7.9" text-anchor="end" fill="#111" stroke="#111" stroke-width="0.4" >500</text>
<line x1="56.30" y1="532.16" x2="59.60" y2="532.16" stroke="#111" stroke-width="1.1" />
<text x="0" y="0" transform="translate(56.00,534.96) scale(1.09,1)" font-size="7.9" text-anchor="end" fill="#111" stroke="#111" stroke-width="0.4" >750</text>
<line x1="56.30" y1="513.48" x2="59.60" y2="513.48" stroke="#111" stroke-width="1.1" />
<text x="0" y="0" transform="translate(56.00,516.28) scale(1.09,1)" font-size="7.9" text-anchor="end" fill="#111" stroke="#111" stroke-width="0.4" >1,000</text>
<line x1="56.30" y1="494.80" x2="59.60" y2="494.80" stroke="#111" stroke-width="1.1" />
<text x="0" y="0" transform="translate(56.00,497.60) scale(1.09,1)" font-size="7.9" text-anchor="end" fill="#111" stroke="#111" stroke-width="0.4" >1,250</text>
<line x1="68.95" y1="524.91" x2="68.95" y2="523.19" stroke="#111" stroke-width="1.2" />
<line x1="65.45" y1="523.19" x2="72.45" y2="523.19" stroke="#111" stroke-width="1.3" />
<rect x="63.00" y="525.61" width="11.90" height="62.59" fill="#e4e4e4" stroke="#111" stroke-width="1.5" />
<line x1="88.80" y1="523.79" x2="88.80" y2="521.48" stroke="#111" stroke-width="1.2" />
<line x1="85.30" y1="521.48" x2="92.30" y2="521.48" stroke="#111" stroke-width="1.3" />
<rect x="82.90" y="524.49" width="11.80" height="63.71" fill="#a6a6a6" stroke="#111" stroke-width="1.5" />
<line x1="107.95" y1="511.01" x2="107.95" y2="510.19" stroke="#111" stroke-width="1.2" />
<line x1="104.45" y1="510.19" x2="111.45" y2="510.19" stroke="#111" stroke-width="1.3" />
<rect x="102.00" y="511.71" width="11.90" height="76.49" fill="#3c3c3c" stroke="#111" stroke-width="1.5" />
<line x1="127.05" y1="500.40" x2="127.05" y2="496.07" stroke="#111" stroke-width="1.2" />
<line x1="123.55" y1="496.07" x2="130.55" y2="496.07" stroke="#111" stroke-width="1.3" />
<rect x="121.20" y="501.10" width="11.70" height="87.10" fill="#151515" stroke="#111" stroke-width="1.5" />
<line x1="145.95" y1="509.59" x2="145.95" y2="508.62" stroke="#111" stroke-width="1.2" />
<line x1="142.45" y1="508.62" x2="149.45" y2="508.62" stroke="#111" stroke-width="1.3" />
<rect x="140.00" y="510.29" width="11.90" height="77.91" fill="#a8a8a8" stroke="#111" stroke-width="1.5" />
<text x="106.80" y="509.10" font-size="6.5" text-anchor="middle" fill="#111" stroke="#111" stroke-width="0.3" letter-spacing="1.1">*</text>
<text x="126.80" y="495.10" font-size="6.5" text-anchor="middle" fill="#111" stroke="#111" stroke-width="0.3" letter-spacing="1.1">**</text>
<text x="145.80" y="507.10" font-size="6.5" text-anchor="middle" fill="#111" stroke="#111" stroke-width="0.3" letter-spacing="1.1">**</text>
<text x="0.00" y="0.00" font-size="8.6" text-anchor="middle" fill="#111" stroke="#111" stroke-width="0.4" transform="translate(30.8,541.9) rotate(-90)">TNFα (pg/mL)</text>
<text x="0" y="0" transform="translate(30.50,599.30) scale(1.07,1)" font-size="8.0" text-anchor="start" fill="#111" stroke="#111" stroke-width="0.4" >rhCC:</text>
<text x="0" y="0" transform="translate(30.50,607.20) scale(1.07,1)" font-size="8.0" text-anchor="start" fill="#111" stroke="#111" stroke-width="0.4" >rhIL2:</text>
<text x="0" y="0" transform="translate(65.80,599.30) scale(1.07,1)" font-size="8.0" text-anchor="middle" fill="#111" stroke="#111" stroke-width="0.4" >0</text>
<text x="0" y="0" transform="translate(65.80,607.20) scale(1.07,1)" font-size="8.0" text-anchor="middle" fill="#111" stroke="#111" stroke-width="0.4" >0</text>
<text x="0" y="0" transform="translate(87.30,599.30) scale(1.07,1)" font-size="8.0" text-anchor="middle" fill="#111" stroke="#111" stroke-width="0.4" >1</text>
<text x="0" y="0" transform="translate(87.30,607.20) scale(1.07,1)" font-size="8.0" text-anchor="middle" fill="#111" stroke="#111" stroke-width="0.4" >0</text>
<text x="0" y="0" transform="translate(105.80,599.30) scale(1.07,1)" font-size="8.0" text-anchor="middle" fill="#111" stroke="#111" stroke-width="0.4" >10</text>
<text x="0" y="0" transform="translate(105.80,607.20) scale(1.07,1)" font-size="8.0" text-anchor="middle" fill="#111" stroke="#111" stroke-width="0.4" >0</text>
<text x="0" y="0" transform="translate(125.30,599.30) scale(1.07,1)" font-size="8.0" text-anchor="middle" fill="#111" stroke="#111" stroke-width="0.4" >100</text>
<text x="0" y="0" transform="translate(125.30,607.20) scale(1.07,1)" font-size="8.0" text-anchor="middle" fill="#111" stroke="#111" stroke-width="0.4" >0</text>
<text x="0" y="0" transform="translate(144.50,599.30) scale(1.07,1)" font-size="8.0" text-anchor="middle" fill="#111" stroke="#111" stroke-width="0.4" >0</text>
<text x="0" y="0" transform="translate(144.50,607.20) scale(1.07,1)" font-size="8.0" text-anchor="middle" fill="#111" stroke="#111" stroke-width="0.4" >20</text>
<text x="0" y="0" transform="translate(153.50,599.30) scale(1.07,1)" font-size="8.0" text-anchor="start" fill="#111" stroke="#111" stroke-width="0.4" >(ng/mL)</text>
<line x1="219.30" y1="492.70" x2="219.30" y2="588.20" stroke="#111" stroke-width="1.3" />
<line x1="218.70" y1="587.60" x2="315.80" y2="587.60" stroke="#111" stroke-width="1.5" />
<line x1="216.00" y1="587.60" x2="219.30" y2="587.60" stroke="#111" stroke-width="1.1" />
<text x="0" y="0" transform="translate(215.70,590.40) scale(1.09,1)" font-size="7.9" text-anchor="end" fill="#111" stroke="#111" stroke-width="0.4" >0</text>
<line x1="216.00" y1="568.72" x2="219.30" y2="568.72" stroke="#111" stroke-width="1.1" />
<text x="0" y="0" transform="translate(215.70,571.52) scale(1.09,1)" font-size="7.9" text-anchor="end" fill="#111" stroke="#111" stroke-width="0.4" >1,400</text>
<line x1="216.00" y1="549.84" x2="219.30" y2="549.84" stroke="#111" stroke-width="1.1" />
<text x="0" y="0" transform="translate(215.70,552.64) scale(1.09,1)" font-size="7.9" text-anchor="end" fill="#111" stroke="#111" stroke-width="0.4" >2,800</text>
<line x1="216.00" y1="530.96" x2="219.30" y2="530.96" stroke="#111" stroke-width="1.1" />
<text x="0" y="0" transform="translate(215.70,533.76) scale(1.09,1)" font-size="7.9" text-anchor="end" fill="#111" stroke="#111" stroke-width="0.4" >4,200</text>
<line x1="216.00" y1="512.08" x2="219.30" y2="512.08" stroke="#111" stroke-width="1.1" />
<text x="0" y="0" transform="translate(215.70,514.88) scale(1.09,1)" font-size="7.9" text-anchor="end" fill="#111" stroke="#111" stroke-width="0.4" >5,600</text>
<line x1="216.00" y1="493.20" x2="219.30" y2="493.20" stroke="#111" stroke-width="1.1" />
<text x="0" y="0" transform="translate(215.70,496.00) scale(1.09,1)" font-size="7.9" text-anchor="end" fill="#111" stroke="#111" stroke-width="0.4" >7,000</text>
<line x1="229.55" y1="528.26" x2="229.55" y2="526.64" stroke="#111" stroke-width="1.2" />
<line x1="226.05" y1="526.64" x2="233.05" y2="526.64" stroke="#111" stroke-width="1.3" />
<rect x="223.80" y="528.96" width="11.50" height="58.64" fill="#e4e4e4" stroke="#111" stroke-width="1.5" />
<line x1="248.35" y1="531.90" x2="248.35" y2="530.02" stroke="#111" stroke-width="1.2" />
<line x1="244.85" y1="530.02" x2="251.85" y2="530.02" stroke="#111" stroke-width="1.3" />
<rect x="242.40" y="532.60" width="11.90" height="55.00" fill="#a6a6a6" stroke="#111" stroke-width="1.5" />
<line x1="267.45" y1="513.29" x2="267.45" y2="510.73" stroke="#111" stroke-width="1.2" />
<line x1="263.95" y1="510.73" x2="270.95" y2="510.73" stroke="#111" stroke-width="1.3" />
<rect x="261.50" y="513.99" width="11.90" height="73.61" fill="#3c3c3c" stroke="#111" stroke-width="1.5" />
<line x1="286.45" y1="498.05" x2="286.45" y2="494.55" stroke="#111" stroke-width="1.2" />
<line x1="282.95" y1="494.55" x2="289.95" y2="494.55" stroke="#111" stroke-width="1.3" />
<rect x="280.50" y="498.75" width="11.90" height="88.85" fill="#151515" stroke="#111" stroke-width="1.5" />
<line x1="305.55" y1="507.23" x2="305.55" y2="506.69" stroke="#111" stroke-width="1.2" />
<line x1="302.05" y1="506.69" x2="309.05" y2="506.69" stroke="#111" stroke-width="1.3" />
<rect x="299.60" y="507.93" width="11.90" height="79.67" fill="#a8a8a8" stroke="#111" stroke-width="1.5" />
<text x="267.50" y="512.60" font-size="6.5" text-anchor="middle" fill="#111" stroke="#111" stroke-width="0.3" letter-spacing="1.1">**</text>
<text x="286.50" y="494.60" font-size="6.5" text-anchor="middle" fill="#111" stroke="#111" stroke-width="0.3" letter-spacing="1.1">**</text>
<text x="305.50" y="506.10" font-size="6.5" text-anchor="middle" fill="#111" stroke="#111" stroke-width="0.3" letter-spacing="1.1">***</text>
<text x="0.00" y="0.00" font-size="8.6" text-anchor="middle" fill="#111" stroke="#111" stroke-width="0.4" transform="translate(190.8,536.2) rotate(-90)">GranB (pg/mL)</text>
<text x="0" y="0" transform="translate(193.30,599.30) scale(1.07,1)" font-size="8.0" text-anchor="start" fill="#111" stroke="#111" stroke-width="0.4" >rhCC:</text>
<text x="0" y="0" transform="translate(193.30,607.20) scale(1.07,1)" font-size="8.0" text-anchor="start" fill="#111" stroke="#111" stroke-width="0.4" >rhIL2:</text>
<text x="0" y="0" transform="translate(229.40,599.30) scale(1.07,1)" font-size="8.0" text-anchor="middle" fill="#111" stroke="#111" stroke-width="0.4" >0</text>
<text x="0" y="0" transform="translate(229.40,607.20) scale(1.07,1)" font-size="8.0" text-anchor="middle" fill="#111" stroke="#111" stroke-width="0.4" >0</text>
<text x="0" y="0" transform="translate(247.50,599.30) scale(1.07,1)" font-size="8.0" text-anchor="middle" fill="#111" stroke="#111" stroke-width="0.4" >1</text>
<text x="0" y="0" transform="translate(247.50,607.20) scale(1.07,1)" font-size="8.0" text-anchor="middle" fill="#111" stroke="#111" stroke-width="0.4" >0</text>
<text x="0" y="0" transform="translate(265.80,599.30) scale(1.07,1)" font-size="8.0" text-anchor="middle" fill="#111" stroke="#111" stroke-width="0.4" >10</text>
<text x="0" y="0" transform="translate(265.80,607.20) scale(1.07,1)" font-size="8.0" text-anchor="middle" fill="#111" stroke="#111" stroke-width="0.4" >0</text>
<text x="0" y="0" transform="translate(284.90,599.30) scale(1.07,1)" font-size="8.0" text-anchor="middle" fill="#111" stroke="#111" stroke-width="0.4" >100</text>
<text x="0" y="0" transform="translate(284.90,607.20) scale(1.07,1)" font-size="8.0" text-anchor="middle" fill="#111" stroke="#111" stroke-width="0.4" >0</text>
<text x="0" y="0" transform="translate(303.90,599.30) scale(1.07,1)" font-size="8.0" text-anchor="middle" fill="#111" stroke="#111" stroke-width="0.4" >0</text>
<text x="0" y="0" transform="translate(303.90,607.20) scale(1.07,1)" font-size="8.0" text-anchor="middle" fill="#111" stroke="#111" stroke-width="0.4" >20</text>
<text x="0" y="0" transform="translate(314.00,599.30) scale(1.07,1)" font-size="8.0" text-anchor="start" fill="#111" stroke="#111" stroke-width="0.4" >(ng/mL)</text>
<line x1="383.60" y1="493.00" x2="383.60" y2="588.30" stroke="#111" stroke-width="1.3" />
<line x1="383.00" y1="587.70" x2="478.20" y2="587.70" stroke="#111" stroke-width="1.5" />
<line x1="380.30" y1="587.70" x2="383.60" y2="587.70" stroke="#111" stroke-width="1.1" />
<text x="0" y="0" transform="translate(380.00,590.50) scale(1.09,1)" font-size="7.9" text-anchor="end" fill="#111" stroke="#111" stroke-width="0.4" >0</text>
<line x1="380.30" y1="564.15" x2="383.60" y2="564.15" stroke="#111" stroke-width="1.1" />
<text x="0" y="0" transform="translate(380.00,566.95) scale(1.09,1)" font-size="7.9" text-anchor="end" fill="#111" stroke="#111" stroke-width="0.4" >2,500</text>
<line x1="380.30" y1="540.60" x2="383.60" y2="540.60" stroke="#111" stroke-width="1.1" />
<text x="0" y="0" transform="translate(380.00,543.40) scale(1.09,1)" font-size="7.9" text-anchor="end" fill="#111" stroke="#111" stroke-width="0.4" >5,000</text>
<line x1="380.30" y1="517.05" x2="383.60" y2="517.05" stroke="#111" stroke-width="1.1" />
<text x="0" y="0" transform="translate(380.00,519.85) scale(1.09,1)" font-size="7.9" text-anchor="end" fill="#111" stroke="#111" stroke-width="0.4" >7,500</text>
<line x1="380.30" y1="493.50" x2="383.60" y2="493.50" stroke="#111" stroke-width="1.1" />
<text x="0" y="0" transform="translate(380.00,496.30) scale(1.09,1)" font-size="7.9" text-anchor="end" fill="#111" stroke="#111" stroke-width="0.4" >10,000</text>
<line x1="393.45" y1="538.54" x2="393.45" y2="537.49" stroke="#111" stroke-width="1.2" />
<line x1="389.95" y1="537.49" x2="396.95" y2="537.49" stroke="#111" stroke-width="1.3" />
<rect x="387.80" y="539.24" width="11.30" height="48.46" fill="#e4e4e4" stroke="#111" stroke-width="1.5" />
<line x1="412.00" y1="502.35" x2="412.00" y2="500.38" stroke="#111" stroke-width="1.2" />
<line x1="408.50" y1="500.38" x2="415.50" y2="500.38" stroke="#111" stroke-width="1.3" />
<rect x="406.10" y="503.05" width="11.80" height="84.65" fill="#a6a6a6" stroke="#111" stroke-width="1.5" />
<line x1="430.90" y1="500.94" x2="430.90" y2="494.16" stroke="#111" stroke-width="1.2" />
<line x1="427.40" y1="494.16" x2="434.40" y2="494.16" stroke="#111" stroke-width="1.3" />
<rect x="425.00" y="501.64" width="11.80" height="86.06" fill="#3c3c3c" stroke="#111" stroke-width="1.5" />
<line x1="449.60" y1="501.60" x2="449.60" y2="494.35" stroke="#111" stroke-width="1.2" />
<line x1="446.10" y1="494.35" x2="453.10" y2="494.35" stroke="#111" stroke-width="1.3" />
<rect x="443.60" y="502.30" width="12.00" height="85.40" fill="#151515" stroke="#111" stroke-width="1.5" />
<line x1="468.00" y1="503.67" x2="468.00" y2="498.30" stroke="#111" stroke-width="1.2" />
<line x1="464.50" y1="498.30" x2="471.50" y2="498.30" stroke="#111" stroke-width="1.3" />
<rect x="462.10" y="504.37" width="11.80" height="83.33" fill="#a8a8a8" stroke="#111" stroke-width="1.5" />
<text x="411.80" y="495.10" font-size="6.5" text-anchor="middle" fill="#111" stroke="#111" stroke-width="0.3" letter-spacing="1.1">**</text>
<text x="431.00" y="492.10" font-size="6.5" text-anchor="middle" fill="#111" stroke="#111" stroke-width="0.3" letter-spacing="1.1">*</text>
<text x="449.60" y="492.10" font-size="6.5" text-anchor="middle" fill="#111" stroke="#111" stroke-width="0.3" letter-spacing="1.1">*</text>
<text x="468.00" y="499.10" font-size="6.5" text-anchor="middle" fill="#111" stroke="#111" stroke-width="0.3" letter-spacing="1.1">*</text>
<text x="0.00" y="0.00" font-size="8.6" text-anchor="middle" fill="#111" stroke="#111" stroke-width="0.4" transform="translate(352.8,543.9) rotate(-90)">IFNγ (pg/mL)</text>
<text x="0" y="0" transform="translate(356.00,599.30) scale(1.07,1)" font-size="8.0" text-anchor="start" fill="#111" stroke="#111" stroke-width="0.4" >rhCC:</text>
<text x="0" y="0" transform="translate(356.00,607.20) scale(1.07,1)" font-size="8.0" text-anchor="start" fill="#111" stroke="#111" stroke-width="0.4" >rhIL2:</text>
<text x="0" y="0" transform="translate(392.00,599.30) scale(1.07,1)" font-size="8.0" text-anchor="middle" fill="#111" stroke="#111" stroke-width="0.4" >0</text>
<text x="0" y="0" transform="translate(392.00,607.20) scale(1.07,1)" font-size="8.0" text-anchor="middle" fill="#111" stroke="#111" stroke-width="0.4" >0</text>
<text x="0" y="0" transform="translate(410.30,599.30) scale(1.07,1)" font-size="8.0" text-anchor="middle" fill="#111" stroke="#111" stroke-width="0.4" >1</text>
<text x="0" y="0" transform="translate(410.30,607.20) scale(1.07,1)" font-size="8.0" text-anchor="middle" fill="#111" stroke="#111" stroke-width="0.4" >0</text>
<text x="0" y="0" transform="translate(429.00,599.30) scale(1.07,1)" font-size="8.0" text-anchor="middle" fill="#111" stroke="#111" stroke-width="0.4" >10</text>
<text x="0" y="0" transform="translate(429.00,607.20) scale(1.07,1)" font-size="8.0" text-anchor="middle" fill="#111" stroke="#111" stroke-width="0.4" >0</text>
<text x="0" y="0" transform="translate(448.40,599.30) scale(1.07,1)" font-size="8.0" text-anchor="middle" fill="#111" stroke="#111" stroke-width="0.4" >100</text>
<text x="0" y="0" transform="translate(448.40,607.20) scale(1.07,1)" font-size="8.0" text-anchor="middle" fill="#111" stroke="#111" stroke-width="0.4" >0</text>
<text x="0" y="0" transform="translate(467.70,599.30) scale(1.07,1)" font-size="8.0" text-anchor="middle" fill="#111" stroke="#111" stroke-width="0.4" >0</text>
<text x="0" y="0" transform="translate(467.70,607.20) scale(1.07,1)" font-size="8.0" text-anchor="middle" fill="#111" stroke="#111" stroke-width="0.4" >20</text>
<text x="0" y="0" transform="translate(477.50,599.30) scale(1.07,1)" font-size="8.0" text-anchor="start" fill="#111" stroke="#111" stroke-width="0.4" >(ng/mL)</text>
</svg>
</body></html>
